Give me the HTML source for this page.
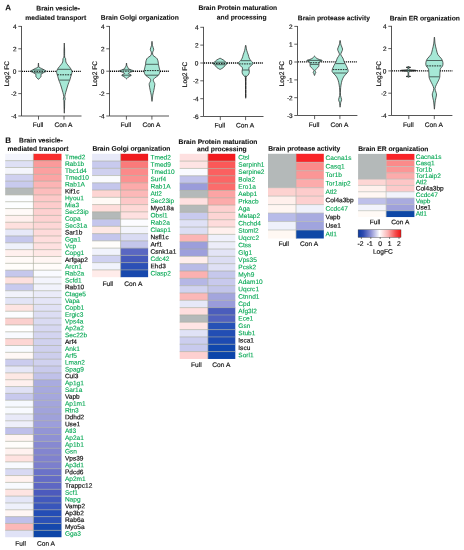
<!DOCTYPE html>
<html lang="en"><head><meta charset="utf-8"><title>Figure</title>
<style>
html,body{margin:0;padding:0;background:#fff;}
body{width:464px;height:550px;overflow:hidden;}
svg{display:block;font-family:"Liberation Sans",sans-serif;text-rendering:geometricPrecision;font-kerning:normal;}
</style></head><body>
<svg width="464" height="550" viewBox="0 0 464 550">
<rect width="464" height="550" fill="#fff"/>
<text x="5.20" y="10.20" font-size="8.00" text-anchor="start" font-weight="bold" fill="#111" stroke="#111" stroke-width="0.10" transform="rotate(0.03 5.20 10.20)">A</text>
<text x="5.20" y="143.00" font-size="8.00" text-anchor="start" font-weight="bold" fill="#111" stroke="#111" stroke-width="0.10" transform="rotate(0.03 5.20 143.00)">B</text>
<line x1="22.10" y1="71.35" x2="81.50" y2="71.35" stroke="#000" stroke-width="1.35" stroke-dasharray="1.05 0.87"/>
<path d="M38.45 63.00C38.58 63.00 38.62 65.97 38.80 66.80C38.98 67.63 38.97 67.31 39.45 67.60C39.93 67.89 40.62 68.00 41.45 68.40C42.28 68.80 43.17 69.30 44.05 69.80C44.93 70.30 46.39 70.71 46.35 71.20C46.31 71.69 44.68 72.05 43.85 72.50C43.02 72.95 42.25 73.34 41.75 73.70C41.25 74.06 41.19 73.94 41.05 74.50C40.91 75.06 41.18 76.17 40.95 76.80C40.72 77.43 40.20 77.55 39.75 78.00C39.30 78.45 38.92 79.30 38.45 79.30C37.98 79.30 37.60 78.45 37.15 78.00C36.70 77.55 36.18 77.43 35.95 76.80C35.72 76.17 35.99 75.06 35.85 74.50C35.71 73.94 35.65 74.06 35.15 73.70C34.65 73.34 33.88 72.95 33.05 72.50C32.22 72.05 30.59 71.69 30.55 71.20C30.51 70.71 31.97 70.30 32.85 69.80C33.73 69.30 34.62 68.80 35.45 68.40C36.28 68.00 36.97 67.89 37.45 67.60C37.93 67.31 37.92 67.63 38.10 66.80C38.28 65.97 38.32 63.00 38.45 63.00Z" fill="#a6e8d6" stroke="#1c1c1c" stroke-width="0.7" stroke-linejoin="round"/>
<line x1="33.25" y1="70.00" x2="43.65" y2="70.00" stroke="#1c1c1c" stroke-width="0.65"/>
<line x1="31.45" y1="71.40" x2="45.45" y2="71.40" stroke="#111" stroke-width="0.9" stroke-dasharray="1.6 0.9"/>
<line x1="33.85" y1="72.80" x2="43.05" y2="72.80" stroke="#1c1c1c" stroke-width="0.65"/>
<path d="M64.30 43.00C64.41 43.00 64.53 47.48 64.60 50.00C64.67 52.52 64.52 55.45 64.70 57.00C64.88 58.55 65.38 57.70 65.60 58.60C65.82 59.50 65.50 60.87 65.90 62.00C66.30 63.13 66.97 63.77 67.80 64.90C68.63 66.03 69.74 67.11 70.50 68.30C71.26 69.49 71.80 70.49 72.00 71.50C72.20 72.51 71.82 72.98 71.60 73.90C71.38 74.82 71.12 75.48 70.80 76.60C70.48 77.72 70.18 78.98 69.80 80.10C69.42 81.22 69.15 81.56 68.70 82.80C68.25 84.04 67.84 85.25 67.30 87.00C66.76 88.75 66.15 90.75 65.70 92.50C65.25 94.25 64.87 95.51 64.80 96.70C64.73 97.89 65.32 98.36 65.30 99.10C65.28 99.84 64.83 99.56 64.70 100.80C64.57 102.04 64.67 103.77 64.60 106.00C64.53 108.23 64.41 113.20 64.30 113.20C64.19 113.20 64.07 108.23 64.00 106.00C63.93 103.77 64.03 102.04 63.90 100.80C63.77 99.56 63.32 99.84 63.30 99.10C63.28 98.36 63.87 97.89 63.80 96.70C63.73 95.51 63.35 94.25 62.90 92.50C62.45 90.75 61.84 88.75 61.30 87.00C60.76 85.25 60.35 84.04 59.90 82.80C59.45 81.56 59.18 81.22 58.80 80.10C58.42 78.98 58.12 77.72 57.80 76.60C57.48 75.48 57.22 74.82 57.00 73.90C56.78 72.98 56.40 72.51 56.60 71.50C56.80 70.49 57.34 69.49 58.10 68.30C58.86 67.11 59.97 66.03 60.80 64.90C61.63 63.77 62.30 63.13 62.70 62.00C63.10 60.87 62.78 59.50 63.00 58.60C63.22 57.70 63.72 58.55 63.90 57.00C64.08 55.45 63.93 52.52 64.00 50.00C64.07 47.48 64.19 43.00 64.30 43.00Z" fill="#a6e8d6" stroke="#1c1c1c" stroke-width="0.7" stroke-linejoin="round"/>
<line x1="57.80" y1="69.30" x2="70.80" y2="69.30" stroke="#1c1c1c" stroke-width="0.65"/>
<line x1="57.40" y1="74.80" x2="71.20" y2="74.80" stroke="#111" stroke-width="0.9" stroke-dasharray="1.6 0.9"/>
<line x1="59.30" y1="80.10" x2="69.30" y2="80.10" stroke="#1c1c1c" stroke-width="0.65"/>
<path d="M21.50 26.00V116.00H81.50" fill="none" stroke="#383838" stroke-width="0.85"/>
<line x1="18.30" y1="26.40" x2="21.50" y2="26.40" stroke="#383838" stroke-width="0.8"/>
<text x="16.70" y="28.90" font-size="6.50" text-anchor="end" font-weight="normal" fill="#111" stroke="#111" stroke-width="0.16" transform="rotate(0.03 16.70 28.90)">4</text>
<line x1="18.30" y1="48.80" x2="21.50" y2="48.80" stroke="#383838" stroke-width="0.8"/>
<text x="16.70" y="51.30" font-size="6.50" text-anchor="end" font-weight="normal" fill="#111" stroke="#111" stroke-width="0.16" transform="rotate(0.03 16.70 51.30)">2</text>
<line x1="18.30" y1="71.20" x2="21.50" y2="71.20" stroke="#383838" stroke-width="0.8"/>
<text x="16.40" y="73.70" font-size="6.50" text-anchor="end" font-weight="normal" fill="#111" stroke="#111" stroke-width="0.16" transform="rotate(0.03 16.40 73.70)">0</text>
<line x1="18.30" y1="93.60" x2="21.50" y2="93.60" stroke="#383838" stroke-width="0.8"/>
<text x="16.70" y="96.10" font-size="6.50" text-anchor="end" font-weight="normal" fill="#111" stroke="#111" stroke-width="0.16" transform="rotate(0.03 16.70 96.10)">-2</text>
<line x1="18.30" y1="116.00" x2="21.50" y2="116.00" stroke="#383838" stroke-width="0.8"/>
<text x="16.70" y="118.50" font-size="6.50" text-anchor="end" font-weight="normal" fill="#111" stroke="#111" stroke-width="0.16" transform="rotate(0.03 16.70 118.50)">-4</text>
<line x1="38.50" y1="116.00" x2="38.50" y2="119.60" stroke="#383838" stroke-width="0.8"/>
<text x="38.00" y="127.10" font-size="6.60" text-anchor="middle" font-weight="normal" fill="#111" stroke="#111" stroke-width="0.16" transform="rotate(0.03 38.00 127.10)">Full</text>
<line x1="64.00" y1="116.00" x2="64.00" y2="119.60" stroke="#383838" stroke-width="0.8"/>
<text x="63.50" y="127.10" font-size="6.60" text-anchor="middle" font-weight="normal" fill="#111" stroke="#111" stroke-width="0.16" transform="rotate(0.03 63.50 127.10)">Con A</text>
<text x="58.20" y="10.60" font-size="6.72" text-anchor="middle" font-weight="bold" fill="#111" stroke="#111" stroke-width="0.10" transform="rotate(0.03 58.20 10.60)">Brain vesicle-</text>
<text x="55.80" y="20.10" font-size="6.72" text-anchor="middle" font-weight="bold" fill="#111" stroke="#111" stroke-width="0.10" transform="rotate(0.03 55.80 20.10)">mediated transport</text>
<text x="0.00" y="0.00" font-size="6.60" text-anchor="middle" font-weight="normal" fill="#111" stroke="#111" stroke-width="0.16" transform="translate(8.50 73.70) rotate(-90)">Log2 FC</text>
<line x1="110.10" y1="71.20" x2="169.00" y2="71.20" stroke="#000" stroke-width="1.35" stroke-dasharray="1.05 0.87"/>
<path d="M126.50 63.00C126.64 63.00 126.67 64.84 126.90 65.60C127.13 66.36 127.55 66.66 127.80 67.20C128.05 67.74 127.74 68.13 128.30 68.60C128.86 69.07 129.95 69.37 130.90 69.80C131.85 70.23 133.67 70.57 133.60 71.00C133.53 71.43 131.44 71.77 130.50 72.20C129.56 72.63 128.51 73.02 128.40 73.40C128.29 73.78 129.38 73.98 129.90 74.30C130.42 74.62 131.37 74.82 131.30 75.20C131.23 75.58 130.15 75.97 129.50 76.40C128.85 76.83 128.24 77.17 127.70 77.60C127.16 78.03 126.93 78.80 126.50 78.80C126.07 78.80 125.84 78.03 125.30 77.60C124.76 77.17 124.15 76.83 123.50 76.40C122.85 75.97 121.77 75.58 121.70 75.20C121.63 74.82 122.58 74.62 123.10 74.30C123.62 73.98 124.71 73.78 124.60 73.40C124.49 73.02 123.44 72.63 122.50 72.20C121.56 71.77 119.47 71.43 119.40 71.00C119.33 70.57 121.15 70.23 122.10 69.80C123.05 69.37 124.14 69.07 124.70 68.60C125.26 68.13 124.95 67.74 125.20 67.20C125.45 66.66 125.87 66.36 126.10 65.60C126.33 64.84 126.36 63.00 126.50 63.00Z" fill="#a6e8d6" stroke="#1c1c1c" stroke-width="0.7" stroke-linejoin="round"/>
<line x1="122.50" y1="69.90" x2="130.50" y2="69.90" stroke="#1c1c1c" stroke-width="0.65"/>
<line x1="120.10" y1="71.20" x2="132.90" y2="71.20" stroke="#111" stroke-width="0.9" stroke-dasharray="1.6 0.9"/>
<line x1="122.10" y1="75.20" x2="130.90" y2="75.20" stroke="#1c1c1c" stroke-width="0.65"/>
<path d="M152.00 41.30C152.18 41.30 152.19 44.06 152.50 45.50C152.81 46.94 153.61 48.24 153.70 49.30C153.79 50.36 153.20 50.75 153.00 51.40C152.80 52.05 152.60 52.20 152.60 52.90C152.60 53.60 152.53 54.56 153.00 55.30C153.47 56.04 154.44 56.37 155.20 57.00C155.96 57.63 156.66 57.90 157.20 58.80C157.74 59.70 157.97 60.96 158.20 62.00C158.43 63.04 158.27 63.32 158.50 64.60C158.73 65.88 159.25 67.82 159.50 69.10C159.75 70.38 160.08 70.60 159.90 71.70C159.72 72.80 159.45 74.05 158.50 75.20C157.55 76.35 155.54 77.18 154.60 78.10C153.66 79.02 153.37 79.53 153.30 80.30C153.23 81.07 153.93 81.63 154.20 82.40C154.47 83.17 154.87 83.16 154.80 84.60C154.73 86.04 154.16 88.53 153.80 90.40C153.44 92.27 153.12 93.02 152.80 95.00C152.48 96.98 152.29 101.40 152.00 101.40C151.71 101.40 151.52 96.98 151.20 95.00C150.88 93.02 150.56 92.27 150.20 90.40C149.84 88.53 149.27 86.04 149.20 84.60C149.13 83.16 149.53 83.17 149.80 82.40C150.07 81.63 150.77 81.07 150.70 80.30C150.63 79.53 150.34 79.02 149.40 78.10C148.46 77.18 146.45 76.35 145.50 75.20C144.55 74.05 144.28 72.80 144.10 71.70C143.92 70.60 144.25 70.38 144.50 69.10C144.75 67.82 145.27 65.88 145.50 64.60C145.73 63.32 145.57 63.04 145.80 62.00C146.03 60.96 146.26 59.70 146.80 58.80C147.34 57.90 148.04 57.63 148.80 57.00C149.56 56.37 150.53 56.04 151.00 55.30C151.47 54.56 151.40 53.60 151.40 52.90C151.40 52.20 151.20 52.05 151.00 51.40C150.80 50.75 150.21 50.36 150.30 49.30C150.39 48.24 151.19 46.94 151.50 45.50C151.81 44.06 151.82 41.30 152.00 41.30Z" fill="#a6e8d6" stroke="#1c1c1c" stroke-width="0.7" stroke-linejoin="round"/>
<line x1="145.80" y1="64.30" x2="158.20" y2="64.30" stroke="#1c1c1c" stroke-width="0.65"/>
<line x1="144.60" y1="70.60" x2="159.40" y2="70.60" stroke="#111" stroke-width="0.9" stroke-dasharray="1.6 0.9"/>
<line x1="145.80" y1="75.20" x2="158.20" y2="75.20" stroke="#1c1c1c" stroke-width="0.65"/>
<path d="M109.50 26.00V116.00H169.00" fill="none" stroke="#383838" stroke-width="0.85"/>
<line x1="106.30" y1="26.40" x2="109.50" y2="26.40" stroke="#383838" stroke-width="0.8"/>
<text x="104.70" y="28.90" font-size="6.50" text-anchor="end" font-weight="normal" fill="#111" stroke="#111" stroke-width="0.16" transform="rotate(0.03 104.70 28.90)">4</text>
<line x1="106.30" y1="48.80" x2="109.50" y2="48.80" stroke="#383838" stroke-width="0.8"/>
<text x="104.70" y="51.30" font-size="6.50" text-anchor="end" font-weight="normal" fill="#111" stroke="#111" stroke-width="0.16" transform="rotate(0.03 104.70 51.30)">2</text>
<line x1="106.30" y1="71.20" x2="109.50" y2="71.20" stroke="#383838" stroke-width="0.8"/>
<text x="104.40" y="73.70" font-size="6.50" text-anchor="end" font-weight="normal" fill="#111" stroke="#111" stroke-width="0.16" transform="rotate(0.03 104.40 73.70)">0</text>
<line x1="106.30" y1="93.60" x2="109.50" y2="93.60" stroke="#383838" stroke-width="0.8"/>
<text x="104.70" y="96.10" font-size="6.50" text-anchor="end" font-weight="normal" fill="#111" stroke="#111" stroke-width="0.16" transform="rotate(0.03 104.70 96.10)">-2</text>
<line x1="106.30" y1="116.00" x2="109.50" y2="116.00" stroke="#383838" stroke-width="0.8"/>
<text x="104.70" y="118.50" font-size="6.50" text-anchor="end" font-weight="normal" fill="#111" stroke="#111" stroke-width="0.16" transform="rotate(0.03 104.70 118.50)">-4</text>
<line x1="126.40" y1="116.00" x2="126.40" y2="119.60" stroke="#383838" stroke-width="0.8"/>
<text x="125.90" y="127.10" font-size="6.60" text-anchor="middle" font-weight="normal" fill="#111" stroke="#111" stroke-width="0.16" transform="rotate(0.03 125.90 127.10)">Full</text>
<line x1="151.90" y1="116.00" x2="151.90" y2="119.60" stroke="#383838" stroke-width="0.8"/>
<text x="151.40" y="127.10" font-size="6.60" text-anchor="middle" font-weight="normal" fill="#111" stroke="#111" stroke-width="0.16" transform="rotate(0.03 151.40 127.10)">Con A</text>
<text x="139.80" y="19.70" font-size="6.72" text-anchor="middle" font-weight="bold" fill="#111" stroke="#111" stroke-width="0.10" transform="rotate(0.03 139.80 19.70)">Brain Golgi organization</text>
<text x="0.00" y="0.00" font-size="6.60" text-anchor="middle" font-weight="normal" fill="#111" stroke="#111" stroke-width="0.16" transform="translate(97.20 73.70) rotate(-90)">Log2 FC</text>
<line x1="204.10" y1="63.00" x2="263.50" y2="63.00" stroke="#000" stroke-width="1.35" stroke-dasharray="1.05 0.87"/>
<path d="M220.10 58.30C220.68 58.30 221.02 58.64 221.70 59.00C222.38 59.36 223.25 59.83 223.90 60.30C224.55 60.77 224.89 61.19 225.30 61.60C225.71 62.01 225.82 62.26 226.20 62.60C226.58 62.94 227.42 63.18 227.40 63.50C227.38 63.82 226.51 64.04 226.10 64.40C225.69 64.76 225.57 64.96 225.10 65.50C224.63 66.04 224.11 66.84 223.50 67.40C222.89 67.96 222.31 68.24 221.70 68.60C221.09 68.96 220.68 69.40 220.10 69.40C219.52 69.40 219.11 68.96 218.50 68.60C217.89 68.24 217.31 67.96 216.70 67.40C216.09 66.84 215.57 66.04 215.10 65.50C214.63 64.96 214.51 64.76 214.10 64.40C213.69 64.04 212.82 63.82 212.80 63.50C212.78 63.18 213.62 62.94 214.00 62.60C214.38 62.26 214.49 62.01 214.90 61.60C215.31 61.19 215.65 60.77 216.30 60.30C216.95 59.83 217.82 59.36 218.50 59.00C219.18 58.64 219.52 58.30 220.10 58.30Z" fill="#a6e8d6" stroke="#1c1c1c" stroke-width="0.7" stroke-linejoin="round"/>
<line x1="214.70" y1="62.20" x2="225.50" y2="62.20" stroke="#1c1c1c" stroke-width="0.65"/>
<line x1="213.50" y1="63.50" x2="226.70" y2="63.50" stroke="#111" stroke-width="0.9" stroke-dasharray="1.6 0.9"/>
<line x1="214.70" y1="64.70" x2="225.50" y2="64.70" stroke="#1c1c1c" stroke-width="0.65"/>
<path d="M245.70 45.20C246.06 45.20 246.23 48.55 246.70 50.30C247.17 52.05 247.85 53.50 248.30 54.90C248.75 56.30 248.73 57.06 249.20 58.10C249.67 59.14 250.20 59.76 250.90 60.70C251.60 61.64 253.10 62.36 253.10 63.30C253.10 64.24 251.66 65.09 250.90 65.90C250.14 66.71 249.19 66.88 248.90 67.80C248.61 68.72 249.30 69.90 249.30 71.00C249.30 72.10 249.37 72.91 248.90 73.90C248.43 74.89 247.22 75.80 246.70 76.50C246.18 77.20 246.18 73.89 246.00 77.80C245.82 81.71 245.81 98.20 245.70 98.20C245.59 98.20 245.58 81.71 245.40 77.80C245.22 73.89 245.22 77.20 244.70 76.50C244.18 75.80 242.97 74.89 242.50 73.90C242.03 72.91 242.10 72.10 242.10 71.00C242.10 69.90 242.79 68.72 242.50 67.80C242.21 66.88 241.26 66.71 240.50 65.90C239.74 65.09 238.30 64.24 238.30 63.30C238.30 62.36 239.80 61.64 240.50 60.70C241.20 59.76 241.73 59.14 242.20 58.10C242.67 57.06 242.65 56.30 243.10 54.90C243.55 53.50 244.23 52.05 244.70 50.30C245.17 48.55 245.34 45.20 245.70 45.20Z" fill="#a6e8d6" stroke="#1c1c1c" stroke-width="0.7" stroke-linejoin="round"/>
<line x1="240.90" y1="60.70" x2="250.50" y2="60.70" stroke="#1c1c1c" stroke-width="0.65"/>
<line x1="239.10" y1="63.90" x2="252.30" y2="63.90" stroke="#111" stroke-width="0.9" stroke-dasharray="1.6 0.9"/>
<line x1="242.40" y1="70.00" x2="249.00" y2="70.00" stroke="#1c1c1c" stroke-width="0.65"/>
<path d="M203.50 26.90V116.50H263.50" fill="none" stroke="#383838" stroke-width="0.85"/>
<line x1="200.30" y1="27.30" x2="203.50" y2="27.30" stroke="#383838" stroke-width="0.8"/>
<text x="198.70" y="29.80" font-size="6.50" text-anchor="end" font-weight="normal" fill="#111" stroke="#111" stroke-width="0.16" transform="rotate(0.03 198.70 29.80)">4</text>
<line x1="200.30" y1="45.10" x2="203.50" y2="45.10" stroke="#383838" stroke-width="0.8"/>
<text x="198.70" y="47.60" font-size="6.50" text-anchor="end" font-weight="normal" fill="#111" stroke="#111" stroke-width="0.16" transform="rotate(0.03 198.70 47.60)">2</text>
<line x1="200.30" y1="63.00" x2="203.50" y2="63.00" stroke="#383838" stroke-width="0.8"/>
<text x="198.40" y="65.50" font-size="6.50" text-anchor="end" font-weight="normal" fill="#111" stroke="#111" stroke-width="0.16" transform="rotate(0.03 198.40 65.50)">0</text>
<line x1="200.30" y1="80.80" x2="203.50" y2="80.80" stroke="#383838" stroke-width="0.8"/>
<text x="198.70" y="83.30" font-size="6.50" text-anchor="end" font-weight="normal" fill="#111" stroke="#111" stroke-width="0.16" transform="rotate(0.03 198.70 83.30)">-2</text>
<line x1="200.30" y1="98.70" x2="203.50" y2="98.70" stroke="#383838" stroke-width="0.8"/>
<text x="198.70" y="101.20" font-size="6.50" text-anchor="end" font-weight="normal" fill="#111" stroke="#111" stroke-width="0.16" transform="rotate(0.03 198.70 101.20)">-4</text>
<line x1="200.30" y1="116.50" x2="203.50" y2="116.50" stroke="#383838" stroke-width="0.8"/>
<text x="198.70" y="119.00" font-size="6.50" text-anchor="end" font-weight="normal" fill="#111" stroke="#111" stroke-width="0.16" transform="rotate(0.03 198.70 119.00)">-6</text>
<line x1="220.30" y1="116.50" x2="220.30" y2="120.10" stroke="#383838" stroke-width="0.8"/>
<text x="219.80" y="127.40" font-size="6.60" text-anchor="middle" font-weight="normal" fill="#111" stroke="#111" stroke-width="0.16" transform="rotate(0.03 219.80 127.40)">Full</text>
<line x1="245.60" y1="116.50" x2="245.60" y2="120.10" stroke="#383838" stroke-width="0.8"/>
<text x="245.10" y="127.40" font-size="6.60" text-anchor="middle" font-weight="normal" fill="#111" stroke="#111" stroke-width="0.16" transform="rotate(0.03 245.10 127.40)">Con A</text>
<text x="237.80" y="10.00" font-size="6.72" text-anchor="middle" font-weight="bold" fill="#111" stroke="#111" stroke-width="0.10" transform="rotate(0.03 237.80 10.00)">Brain Protein maturation</text>
<text x="241.70" y="19.60" font-size="6.72" text-anchor="middle" font-weight="bold" fill="#111" stroke="#111" stroke-width="0.10" transform="rotate(0.03 241.70 19.60)">and processing</text>
<text x="0.00" y="0.00" font-size="6.60" text-anchor="middle" font-weight="normal" fill="#111" stroke="#111" stroke-width="0.16" transform="translate(187.00 74.50) rotate(-90)">Log2 FC</text>
<line x1="245.7" y1="77.5" x2="245.7" y2="98.2" stroke="#222" stroke-width="0.9" stroke-dasharray="3.4 0.7"/>
<line x1="298.10" y1="61.90" x2="357.40" y2="61.90" stroke="#000" stroke-width="1.35" stroke-dasharray="1.05 0.87"/>
<path d="M314.50 56.10C314.93 56.10 315.23 57.05 315.70 57.50C316.17 57.95 316.42 58.22 317.10 58.60C317.78 58.98 318.58 59.28 319.50 59.60C320.42 59.92 321.91 60.11 322.20 60.40C322.49 60.69 321.62 60.91 321.10 61.20C320.58 61.49 319.68 61.50 319.30 62.00C318.92 62.50 319.09 63.24 319.00 64.00C318.91 64.76 319.03 65.55 318.80 66.20C318.57 66.85 318.11 67.15 317.70 67.60C317.29 68.05 316.90 68.30 316.50 68.70C316.10 69.10 315.77 69.44 315.50 69.80C315.23 70.16 314.95 70.25 315.00 70.70C315.05 71.15 315.76 71.78 315.80 72.30C315.84 72.82 315.43 73.02 315.20 73.60C314.97 74.18 314.75 75.50 314.50 75.50C314.25 75.50 314.03 74.18 313.80 73.60C313.57 73.02 313.16 72.82 313.20 72.30C313.24 71.78 313.95 71.15 314.00 70.70C314.05 70.25 313.77 70.16 313.50 69.80C313.23 69.44 312.90 69.10 312.50 68.70C312.10 68.30 311.71 68.05 311.30 67.60C310.89 67.15 310.43 66.85 310.20 66.20C309.97 65.55 310.09 64.76 310.00 64.00C309.91 63.24 310.08 62.50 309.70 62.00C309.32 61.50 308.42 61.49 307.90 61.20C307.38 60.91 306.51 60.69 306.80 60.40C307.09 60.11 308.58 59.92 309.50 59.60C310.42 59.28 311.22 58.98 311.90 58.60C312.58 58.22 312.83 57.95 313.30 57.50C313.77 57.05 314.07 56.10 314.50 56.10Z" fill="#a6e8d6" stroke="#1c1c1c" stroke-width="0.7" stroke-linejoin="round"/>
<line x1="307.90" y1="60.40" x2="321.10" y2="60.40" stroke="#1c1c1c" stroke-width="0.65"/>
<line x1="310.30" y1="62.70" x2="318.70" y2="62.70" stroke="#111" stroke-width="0.9" stroke-dasharray="1.6 0.9"/>
<line x1="310.30" y1="64.40" x2="318.70" y2="64.40" stroke="#1c1c1c" stroke-width="0.65"/>
<path d="M340.10 40.40C340.42 40.40 340.55 43.43 341.00 45.00C341.45 46.57 342.49 47.84 342.60 49.10C342.71 50.36 341.92 50.99 341.60 52.00C341.28 53.01 340.57 53.60 340.80 54.70C341.03 55.80 342.29 56.82 342.90 58.10C343.51 59.38 343.59 60.43 344.20 61.80C344.81 63.17 345.62 64.24 346.30 65.70C346.98 67.16 347.75 68.73 348.00 69.90C348.25 71.07 348.38 71.08 347.70 72.20C347.02 73.32 345.21 74.66 344.20 76.10C343.19 77.54 342.68 78.58 342.10 80.20C341.52 81.82 341.29 83.34 341.00 85.10C340.71 86.86 340.59 88.15 340.50 90.00C340.41 91.85 340.30 93.67 340.50 95.40C340.70 97.13 341.56 98.32 341.60 99.60C341.64 100.88 340.97 101.13 340.70 102.50C340.43 103.87 340.32 107.20 340.10 107.20C339.88 107.20 339.77 103.87 339.50 102.50C339.23 101.13 338.56 100.88 338.60 99.60C338.64 98.32 339.50 97.13 339.70 95.40C339.90 93.67 339.79 91.85 339.70 90.00C339.61 88.15 339.49 86.86 339.20 85.10C338.91 83.34 338.68 81.82 338.10 80.20C337.52 78.58 337.01 77.54 336.00 76.10C334.99 74.66 333.18 73.32 332.50 72.20C331.82 71.08 331.95 71.07 332.20 69.90C332.45 68.73 333.22 67.16 333.90 65.70C334.58 64.24 335.39 63.17 336.00 61.80C336.61 60.43 336.69 59.38 337.30 58.10C337.91 56.82 339.17 55.80 339.40 54.70C339.63 53.60 338.92 53.01 338.60 52.00C338.28 50.99 337.49 50.36 337.60 49.10C337.71 47.84 338.75 46.57 339.20 45.00C339.65 43.43 339.78 40.40 340.10 40.40Z" fill="#a6e8d6" stroke="#1c1c1c" stroke-width="0.7" stroke-linejoin="round"/>
<line x1="335.50" y1="63.60" x2="344.70" y2="63.60" stroke="#1c1c1c" stroke-width="0.65"/>
<line x1="332.80" y1="69.60" x2="347.40" y2="69.60" stroke="#111" stroke-width="0.9" stroke-dasharray="1.6 0.9"/>
<line x1="333.50" y1="73.00" x2="346.70" y2="73.00" stroke="#1c1c1c" stroke-width="0.65"/>
<path d="M297.50 26.00V115.50H357.40" fill="none" stroke="#383838" stroke-width="0.85"/>
<line x1="294.30" y1="26.40" x2="297.50" y2="26.40" stroke="#383838" stroke-width="0.8"/>
<text x="292.70" y="28.90" font-size="6.50" text-anchor="end" font-weight="normal" fill="#111" stroke="#111" stroke-width="0.16" transform="rotate(0.03 292.70 28.90)">2</text>
<line x1="294.30" y1="44.20" x2="297.50" y2="44.20" stroke="#383838" stroke-width="0.8"/>
<text x="292.70" y="46.70" font-size="6.50" text-anchor="end" font-weight="normal" fill="#111" stroke="#111" stroke-width="0.16" transform="rotate(0.03 292.70 46.70)">1</text>
<line x1="294.30" y1="62.00" x2="297.50" y2="62.00" stroke="#383838" stroke-width="0.8"/>
<text x="292.40" y="64.50" font-size="6.50" text-anchor="end" font-weight="normal" fill="#111" stroke="#111" stroke-width="0.16" transform="rotate(0.03 292.40 64.50)">0</text>
<line x1="294.30" y1="79.90" x2="297.50" y2="79.90" stroke="#383838" stroke-width="0.8"/>
<text x="292.70" y="82.40" font-size="6.50" text-anchor="end" font-weight="normal" fill="#111" stroke="#111" stroke-width="0.16" transform="rotate(0.03 292.70 82.40)">-1</text>
<line x1="294.30" y1="97.70" x2="297.50" y2="97.70" stroke="#383838" stroke-width="0.8"/>
<text x="292.70" y="100.20" font-size="6.50" text-anchor="end" font-weight="normal" fill="#111" stroke="#111" stroke-width="0.16" transform="rotate(0.03 292.70 100.20)">-2</text>
<line x1="294.30" y1="115.50" x2="297.50" y2="115.50" stroke="#383838" stroke-width="0.8"/>
<text x="292.70" y="118.00" font-size="6.50" text-anchor="end" font-weight="normal" fill="#111" stroke="#111" stroke-width="0.16" transform="rotate(0.03 292.70 118.00)">-3</text>
<line x1="314.60" y1="115.50" x2="314.60" y2="119.10" stroke="#383838" stroke-width="0.8"/>
<text x="314.10" y="127.00" font-size="6.60" text-anchor="middle" font-weight="normal" fill="#111" stroke="#111" stroke-width="0.16" transform="rotate(0.03 314.10 127.00)">Full</text>
<line x1="339.90" y1="115.50" x2="339.90" y2="119.10" stroke="#383838" stroke-width="0.8"/>
<text x="339.40" y="127.00" font-size="6.60" text-anchor="middle" font-weight="normal" fill="#111" stroke="#111" stroke-width="0.16" transform="rotate(0.03 339.40 127.00)">Con A</text>
<text x="333.90" y="20.20" font-size="6.72" text-anchor="middle" font-weight="bold" fill="#111" stroke="#111" stroke-width="0.10" transform="rotate(0.03 333.90 20.20)">Brain protease activity</text>
<text x="0.00" y="0.00" font-size="6.60" text-anchor="middle" font-weight="normal" fill="#111" stroke="#111" stroke-width="0.16" transform="translate(283.70 73.70) rotate(-90)">Log2 FC</text>
<line x1="392.10" y1="70.90" x2="452.40" y2="70.90" stroke="#000" stroke-width="1.35" stroke-dasharray="1.05 0.87"/>
<path d="M408.40 66.10C408.58 66.10 408.49 66.67 408.90 66.90C409.31 67.13 410.68 67.22 410.70 67.40C410.72 67.58 409.29 67.54 409.00 67.90C408.71 68.26 408.63 69.02 409.10 69.40C409.57 69.78 410.25 69.80 411.60 70.00C412.95 70.20 416.60 70.30 416.60 70.50C416.60 70.70 412.95 70.88 411.60 71.10C410.25 71.32 409.59 70.85 409.10 71.70C408.61 72.55 408.61 74.95 408.90 75.80C409.19 76.65 410.70 76.20 410.70 76.40C410.70 76.60 409.31 76.72 408.90 76.90C408.49 77.08 408.58 77.40 408.40 77.40C408.22 77.40 408.31 77.08 407.90 76.90C407.49 76.72 406.10 76.60 406.10 76.40C406.10 76.20 407.61 76.65 407.90 75.80C408.19 74.95 408.19 72.55 407.70 71.70C407.21 70.85 406.55 71.32 405.20 71.10C403.85 70.88 400.20 70.70 400.20 70.50C400.20 70.30 403.85 70.20 405.20 70.00C406.55 69.80 407.23 69.78 407.70 69.40C408.17 69.02 408.09 68.26 407.80 67.90C407.51 67.54 406.08 67.58 406.10 67.40C406.12 67.22 407.49 67.13 407.90 66.90C408.31 66.67 408.22 66.10 408.40 66.10Z" fill="#a6e8d6" stroke="#1c1c1c" stroke-width="0.7" stroke-linejoin="round"/>
<line x1="401.40" y1="70.30" x2="415.40" y2="70.30" stroke="#1c1c1c" stroke-width="0.65"/>
<line x1="401.40" y1="70.80" x2="415.40" y2="70.80" stroke="#1c1c1c" stroke-width="0.65"/>
<line x1="406.40" y1="67.40" x2="410.40" y2="67.40" stroke="#1c1c1c" stroke-width="0.65"/>
<line x1="406.40" y1="76.40" x2="410.40" y2="76.40" stroke="#1c1c1c" stroke-width="0.65"/>
<path d="M434.40 37.10C434.65 37.10 434.74 41.65 435.10 43.90C435.46 46.15 435.90 47.67 436.40 49.60C436.90 51.53 436.98 52.94 437.90 54.60C438.82 56.26 440.60 57.40 441.50 58.80C442.40 60.20 442.70 61.12 442.90 62.40C443.10 63.68 443.09 64.62 442.60 65.90C442.11 67.18 440.70 67.57 440.20 69.50C439.70 71.43 440.07 74.69 439.80 76.60C439.53 78.51 439.29 78.70 438.70 80.10C438.11 81.50 437.17 82.87 436.50 84.40C435.83 85.93 435.11 87.23 435.00 88.60C434.89 89.97 435.63 90.85 435.90 92.00C436.17 93.15 436.61 93.43 436.50 95.00C436.39 96.57 435.61 98.90 435.30 100.70C434.99 102.50 434.96 103.47 434.80 105.00C434.64 106.53 434.54 109.20 434.40 109.20C434.26 109.20 434.16 106.53 434.00 105.00C433.84 103.47 433.81 102.50 433.50 100.70C433.19 98.90 432.41 96.57 432.30 95.00C432.19 93.43 432.63 93.15 432.90 92.00C433.17 90.85 433.91 89.97 433.80 88.60C433.69 87.23 432.97 85.93 432.30 84.40C431.63 82.87 430.69 81.50 430.10 80.10C429.51 78.70 429.27 78.51 429.00 76.60C428.73 74.69 429.10 71.43 428.60 69.50C428.10 67.57 426.69 67.18 426.20 65.90C425.71 64.62 425.70 63.68 425.90 62.40C426.10 61.12 426.40 60.20 427.30 58.80C428.20 57.40 429.98 56.26 430.90 54.60C431.82 52.94 431.90 51.53 432.40 49.60C432.90 47.67 433.34 46.15 433.70 43.90C434.06 41.65 434.15 37.10 434.40 37.10Z" fill="#a6e8d6" stroke="#1c1c1c" stroke-width="0.7" stroke-linejoin="round"/>
<line x1="426.80" y1="60.50" x2="442.00" y2="60.50" stroke="#1c1c1c" stroke-width="0.65"/>
<line x1="426.80" y1="65.90" x2="442.00" y2="65.90" stroke="#111" stroke-width="0.9" stroke-dasharray="1.6 0.9"/>
<line x1="429.40" y1="76.80" x2="439.40" y2="76.80" stroke="#1c1c1c" stroke-width="0.65"/>
<path d="M391.50 25.90V115.50H452.40" fill="none" stroke="#383838" stroke-width="0.85"/>
<line x1="388.30" y1="26.30" x2="391.50" y2="26.30" stroke="#383838" stroke-width="0.8"/>
<text x="386.70" y="28.80" font-size="6.50" text-anchor="end" font-weight="normal" fill="#111" stroke="#111" stroke-width="0.16" transform="rotate(0.03 386.70 28.80)">4</text>
<line x1="388.30" y1="48.60" x2="391.50" y2="48.60" stroke="#383838" stroke-width="0.8"/>
<text x="386.70" y="51.10" font-size="6.50" text-anchor="end" font-weight="normal" fill="#111" stroke="#111" stroke-width="0.16" transform="rotate(0.03 386.70 51.10)">2</text>
<line x1="388.30" y1="70.90" x2="391.50" y2="70.90" stroke="#383838" stroke-width="0.8"/>
<text x="386.40" y="73.40" font-size="6.50" text-anchor="end" font-weight="normal" fill="#111" stroke="#111" stroke-width="0.16" transform="rotate(0.03 386.40 73.40)">0</text>
<line x1="388.30" y1="93.20" x2="391.50" y2="93.20" stroke="#383838" stroke-width="0.8"/>
<text x="386.70" y="95.70" font-size="6.50" text-anchor="end" font-weight="normal" fill="#111" stroke="#111" stroke-width="0.16" transform="rotate(0.03 386.70 95.70)">-2</text>
<line x1="388.30" y1="115.50" x2="391.50" y2="115.50" stroke="#383838" stroke-width="0.8"/>
<text x="386.70" y="118.00" font-size="6.50" text-anchor="end" font-weight="normal" fill="#111" stroke="#111" stroke-width="0.16" transform="rotate(0.03 386.70 118.00)">-4</text>
<line x1="408.80" y1="115.50" x2="408.80" y2="119.10" stroke="#383838" stroke-width="0.8"/>
<text x="408.30" y="127.00" font-size="6.60" text-anchor="middle" font-weight="normal" fill="#111" stroke="#111" stroke-width="0.16" transform="rotate(0.03 408.30 127.00)">Full</text>
<line x1="434.30" y1="115.50" x2="434.30" y2="119.10" stroke="#383838" stroke-width="0.8"/>
<text x="433.80" y="127.00" font-size="6.60" text-anchor="middle" font-weight="normal" fill="#111" stroke="#111" stroke-width="0.16" transform="rotate(0.03 433.80 127.00)">Con A</text>
<text x="424.80" y="20.60" font-size="6.72" text-anchor="middle" font-weight="bold" fill="#111" stroke="#111" stroke-width="0.10" transform="rotate(0.03 424.80 20.60)">Brain ER organization</text>
<text x="0.00" y="0.00" font-size="6.60" text-anchor="middle" font-weight="normal" fill="#111" stroke="#111" stroke-width="0.16" transform="translate(380.60 73.70) rotate(-90)">Log2 FC</text>
<rect x="5.20" y="153.80" width="28.20" height="6.90" fill="#f3f4fc"/>
<rect x="33.40" y="153.80" width="28.10" height="6.90" fill="#f82c2c"/>
<text x="64.90" y="159.22" font-size="6.55" text-anchor="start" font-weight="normal" fill="#00a651" stroke="#00a651" stroke-width="0.10" transform="rotate(0.03 64.90 159.22)">Tmed2</text>
<rect x="5.20" y="160.65" width="28.20" height="6.90" fill="#dee0f5"/>
<rect x="33.40" y="160.65" width="28.10" height="6.90" fill="#fa9a9a"/>
<text x="64.90" y="166.07" font-size="6.55" text-anchor="start" font-weight="normal" fill="#00a651" stroke="#00a651" stroke-width="0.10" transform="rotate(0.03 64.90 166.07)">Rab1b</text>
<rect x="5.20" y="167.49" width="28.20" height="6.90" fill="#f4f5fc"/>
<rect x="33.40" y="167.49" width="28.10" height="6.90" fill="#fba0a0"/>
<text x="64.90" y="172.92" font-size="6.55" text-anchor="start" font-weight="normal" fill="#00a651" stroke="#00a651" stroke-width="0.10" transform="rotate(0.03 64.90 172.92)">Tbc1d4</text>
<rect x="5.20" y="174.34" width="28.20" height="6.90" fill="#cfd0ef"/>
<rect x="33.40" y="174.34" width="28.10" height="6.90" fill="#fba4a4"/>
<text x="64.90" y="179.76" font-size="6.55" text-anchor="start" font-weight="normal" fill="#00a651" stroke="#00a651" stroke-width="0.10" transform="rotate(0.03 64.90 179.76)">Tmed10</text>
<rect x="5.20" y="181.18" width="28.20" height="6.90" fill="#c8caee"/>
<rect x="33.40" y="181.18" width="28.10" height="6.90" fill="#fcb4b4"/>
<text x="64.90" y="186.61" font-size="6.55" text-anchor="start" font-weight="normal" fill="#00a651" stroke="#00a651" stroke-width="0.10" transform="rotate(0.03 64.90 186.61)">Rab1A</text>
<rect x="5.20" y="188.03" width="28.20" height="6.90" fill="#b4b9b9"/>
<rect x="33.40" y="188.03" width="28.10" height="6.90" fill="#fcbcbc"/>
<text x="64.90" y="193.45" font-size="6.55" text-anchor="start" font-weight="normal" fill="#111" stroke="#111" stroke-width="0.18" transform="rotate(0.03 64.90 193.45)">Kif1c</text>
<rect x="5.20" y="194.88" width="28.20" height="6.90" fill="#fcfdff"/>
<rect x="33.40" y="194.88" width="28.10" height="6.90" fill="#fdc8c8"/>
<text x="64.90" y="200.30" font-size="6.55" text-anchor="start" font-weight="normal" fill="#00a651" stroke="#00a651" stroke-width="0.10" transform="rotate(0.03 64.90 200.30)">Hyou1</text>
<rect x="5.20" y="201.72" width="28.20" height="6.90" fill="#fdfeff"/>
<rect x="33.40" y="201.72" width="28.10" height="6.90" fill="#fdcccc"/>
<text x="64.90" y="207.15" font-size="6.55" text-anchor="start" font-weight="normal" fill="#00a651" stroke="#00a651" stroke-width="0.10" transform="rotate(0.03 64.90 207.15)">Mia3</text>
<rect x="5.20" y="208.57" width="28.20" height="6.90" fill="#fffaf8"/>
<rect x="33.40" y="208.57" width="28.10" height="6.90" fill="#fdd0d0"/>
<text x="64.90" y="213.99" font-size="6.55" text-anchor="start" font-weight="normal" fill="#00a651" stroke="#00a651" stroke-width="0.10" transform="rotate(0.03 64.90 213.99)">Sec23ip</text>
<rect x="5.20" y="215.41" width="28.20" height="6.90" fill="#fff0ee"/>
<rect x="33.40" y="215.41" width="28.10" height="6.90" fill="#fdd2d2"/>
<text x="64.90" y="220.84" font-size="6.55" text-anchor="start" font-weight="normal" fill="#00a651" stroke="#00a651" stroke-width="0.10" transform="rotate(0.03 64.90 220.84)">Copa</text>
<rect x="5.20" y="222.26" width="28.20" height="6.90" fill="#fee0de"/>
<rect x="33.40" y="222.26" width="28.10" height="6.90" fill="#fdd6d6"/>
<text x="64.90" y="227.68" font-size="6.55" text-anchor="start" font-weight="normal" fill="#00a651" stroke="#00a651" stroke-width="0.10" transform="rotate(0.03 64.90 227.68)">Sec31a</text>
<rect x="5.20" y="229.11" width="28.20" height="6.90" fill="#e6e8f8"/>
<rect x="33.40" y="229.11" width="28.10" height="6.90" fill="#fedada"/>
<text x="64.90" y="234.53" font-size="6.55" text-anchor="start" font-weight="normal" fill="#111" stroke="#111" stroke-width="0.18" transform="rotate(0.03 64.90 234.53)">Sar1b</text>
<rect x="5.20" y="235.95" width="28.20" height="6.90" fill="#c5c7ec"/>
<rect x="33.40" y="235.95" width="28.10" height="6.90" fill="#fedddd"/>
<text x="64.90" y="241.38" font-size="6.55" text-anchor="start" font-weight="normal" fill="#00a651" stroke="#00a651" stroke-width="0.10" transform="rotate(0.03 64.90 241.38)">Gga1</text>
<rect x="5.20" y="242.80" width="28.20" height="6.90" fill="#eff1fb"/>
<rect x="33.40" y="242.80" width="28.10" height="6.90" fill="#fee0e0"/>
<text x="64.90" y="248.22" font-size="6.55" text-anchor="start" font-weight="normal" fill="#00a651" stroke="#00a651" stroke-width="0.10" transform="rotate(0.03 64.90 248.22)">Vcp</text>
<rect x="5.20" y="249.64" width="28.20" height="6.90" fill="#fff0ee"/>
<rect x="33.40" y="249.64" width="28.10" height="6.90" fill="#ffe8e6"/>
<text x="64.90" y="255.07" font-size="6.55" text-anchor="start" font-weight="normal" fill="#00a651" stroke="#00a651" stroke-width="0.10" transform="rotate(0.03 64.90 255.07)">Copg1</text>
<rect x="5.20" y="256.49" width="28.20" height="6.90" fill="#fffaf8"/>
<rect x="33.40" y="256.49" width="28.10" height="6.90" fill="#fff6f4"/>
<text x="64.90" y="261.91" font-size="6.55" text-anchor="start" font-weight="normal" fill="#111" stroke="#111" stroke-width="0.18" transform="rotate(0.03 64.90 261.91)">Arfgap2</text>
<rect x="5.20" y="263.34" width="28.20" height="6.90" fill="#fffdfb"/>
<rect x="33.40" y="263.34" width="28.10" height="6.90" fill="#fffcfa"/>
<text x="64.90" y="268.76" font-size="6.55" text-anchor="start" font-weight="normal" fill="#00a651" stroke="#00a651" stroke-width="0.10" transform="rotate(0.03 64.90 268.76)">Arcn1</text>
<rect x="5.20" y="270.18" width="28.20" height="6.90" fill="#c5c7ec"/>
<rect x="33.40" y="270.18" width="28.10" height="6.90" fill="#f9faff"/>
<text x="64.90" y="275.61" font-size="6.55" text-anchor="start" font-weight="normal" fill="#00a651" stroke="#00a651" stroke-width="0.10" transform="rotate(0.03 64.90 275.61)">Rab2a</text>
<rect x="5.20" y="277.03" width="28.20" height="6.90" fill="#fde0de"/>
<rect x="33.40" y="277.03" width="28.10" height="6.90" fill="#f3f4fc"/>
<text x="64.90" y="282.45" font-size="6.55" text-anchor="start" font-weight="normal" fill="#00a651" stroke="#00a651" stroke-width="0.10" transform="rotate(0.03 64.90 282.45)">Scfd1</text>
<rect x="5.20" y="283.87" width="28.20" height="6.90" fill="#c8caee"/>
<rect x="33.40" y="283.87" width="28.10" height="6.90" fill="#f1f2fb"/>
<text x="64.90" y="289.30" font-size="6.55" text-anchor="start" font-weight="normal" fill="#111" stroke="#111" stroke-width="0.18" transform="rotate(0.03 64.90 289.30)">Rab10</text>
<rect x="5.20" y="290.72" width="28.20" height="6.90" fill="#f1f2fb"/>
<rect x="33.40" y="290.72" width="28.10" height="6.90" fill="#eaebf9"/>
<text x="64.90" y="296.14" font-size="6.55" text-anchor="start" font-weight="normal" fill="#00a651" stroke="#00a651" stroke-width="0.10" transform="rotate(0.03 64.90 296.14)">Ctage5</text>
<rect x="5.20" y="297.57" width="28.20" height="6.90" fill="#e2e4f6"/>
<rect x="33.40" y="297.57" width="28.10" height="6.90" fill="#e4e5f7"/>
<text x="64.90" y="302.99" font-size="6.55" text-anchor="start" font-weight="normal" fill="#00a651" stroke="#00a651" stroke-width="0.10" transform="rotate(0.03 64.90 302.99)">Vapa</text>
<rect x="5.20" y="304.41" width="28.20" height="6.90" fill="#fde4e2"/>
<rect x="33.40" y="304.41" width="28.10" height="6.90" fill="#e0e1f5"/>
<text x="64.90" y="309.84" font-size="6.55" text-anchor="start" font-weight="normal" fill="#00a651" stroke="#00a651" stroke-width="0.10" transform="rotate(0.03 64.90 309.84)">Copb1</text>
<rect x="5.20" y="311.26" width="28.20" height="6.90" fill="#fcfdff"/>
<rect x="33.40" y="311.26" width="28.10" height="6.90" fill="#dcddf3"/>
<text x="64.90" y="316.68" font-size="6.55" text-anchor="start" font-weight="normal" fill="#00a651" stroke="#00a651" stroke-width="0.10" transform="rotate(0.03 64.90 316.68)">Ergic3</text>
<rect x="5.20" y="318.10" width="28.20" height="6.90" fill="#fbd0ce"/>
<rect x="33.40" y="318.10" width="28.10" height="6.90" fill="#d9daf2"/>
<text x="64.90" y="323.53" font-size="6.55" text-anchor="start" font-weight="normal" fill="#00a651" stroke="#00a651" stroke-width="0.10" transform="rotate(0.03 64.90 323.53)">Vps4a</text>
<rect x="5.20" y="324.95" width="28.20" height="6.90" fill="#ffffff"/>
<rect x="33.40" y="324.95" width="28.10" height="6.90" fill="#d6d7f1"/>
<text x="64.90" y="330.37" font-size="6.55" text-anchor="start" font-weight="normal" fill="#00a651" stroke="#00a651" stroke-width="0.10" transform="rotate(0.03 64.90 330.37)">Ap2a2</text>
<rect x="5.20" y="331.80" width="28.20" height="6.90" fill="#f8faff"/>
<rect x="33.40" y="331.80" width="28.10" height="6.90" fill="#d3d4f0"/>
<text x="64.90" y="337.22" font-size="6.55" text-anchor="start" font-weight="normal" fill="#00a651" stroke="#00a651" stroke-width="0.10" transform="rotate(0.03 64.90 337.22)">Sec22b</text>
<rect x="5.20" y="338.64" width="28.20" height="6.90" fill="#fdd6d4"/>
<rect x="33.40" y="338.64" width="28.10" height="6.90" fill="#d0d1ee"/>
<text x="64.90" y="344.07" font-size="6.55" text-anchor="start" font-weight="normal" fill="#111" stroke="#111" stroke-width="0.18" transform="rotate(0.03 64.90 344.07)">Arf4</text>
<rect x="5.20" y="345.49" width="28.20" height="6.90" fill="#f9fbff"/>
<rect x="33.40" y="345.49" width="28.10" height="6.90" fill="#cfd0ee"/>
<text x="64.90" y="350.91" font-size="6.55" text-anchor="start" font-weight="normal" fill="#00a651" stroke="#00a651" stroke-width="0.10" transform="rotate(0.03 64.90 350.91)">Ank1</text>
<rect x="5.20" y="352.33" width="28.20" height="6.90" fill="#fff8f6"/>
<rect x="33.40" y="352.33" width="28.10" height="6.90" fill="#cdceed"/>
<text x="64.90" y="357.76" font-size="6.55" text-anchor="start" font-weight="normal" fill="#00a651" stroke="#00a651" stroke-width="0.10" transform="rotate(0.03 64.90 357.76)">Arf5</text>
<rect x="5.20" y="359.18" width="28.20" height="6.90" fill="#cbccee"/>
<rect x="33.40" y="359.18" width="28.10" height="6.90" fill="#d0d1ef"/>
<text x="64.90" y="364.60" font-size="6.55" text-anchor="start" font-weight="normal" fill="#00a651" stroke="#00a651" stroke-width="0.10" transform="rotate(0.03 64.90 364.60)">Lman2</text>
<rect x="5.20" y="366.03" width="28.20" height="6.90" fill="#e6e7f7"/>
<rect x="33.40" y="366.03" width="28.10" height="6.90" fill="#c9caec"/>
<text x="64.90" y="371.45" font-size="6.55" text-anchor="start" font-weight="normal" fill="#00a651" stroke="#00a651" stroke-width="0.10" transform="rotate(0.03 64.90 371.45)">Spag9</text>
<rect x="5.20" y="372.87" width="28.20" height="6.90" fill="#fde8e4"/>
<rect x="33.40" y="372.87" width="28.10" height="6.90" fill="#c0c1e9"/>
<text x="64.90" y="378.30" font-size="6.55" text-anchor="start" font-weight="normal" fill="#111" stroke="#111" stroke-width="0.18" transform="rotate(0.03 64.90 378.30)">Cul3</text>
<rect x="5.20" y="379.72" width="28.20" height="6.90" fill="#fff0ee"/>
<rect x="33.40" y="379.72" width="28.10" height="6.90" fill="#a9abdf"/>
<text x="64.90" y="385.14" font-size="6.55" text-anchor="start" font-weight="normal" fill="#00a651" stroke="#00a651" stroke-width="0.10" transform="rotate(0.03 64.90 385.14)">Ap1g1</text>
<rect x="5.20" y="386.56" width="28.20" height="6.90" fill="#e0e1f5"/>
<rect x="33.40" y="386.56" width="28.10" height="6.90" fill="#a7a9de"/>
<text x="64.90" y="391.99" font-size="6.55" text-anchor="start" font-weight="normal" fill="#00a651" stroke="#00a651" stroke-width="0.10" transform="rotate(0.03 64.90 391.99)">Sar1a</text>
<rect x="5.20" y="393.41" width="28.20" height="6.90" fill="#c8c9ed"/>
<rect x="33.40" y="393.41" width="28.10" height="6.90" fill="#a5a7dd"/>
<text x="64.90" y="398.83" font-size="6.55" text-anchor="start" font-weight="normal" fill="#111" stroke="#111" stroke-width="0.18" transform="rotate(0.03 64.90 398.83)">Vapb</text>
<rect x="5.20" y="400.26" width="28.20" height="6.90" fill="#f6f9ff"/>
<rect x="33.40" y="400.26" width="28.10" height="6.90" fill="#a3a5dc"/>
<text x="64.90" y="405.68" font-size="6.55" text-anchor="start" font-weight="normal" fill="#00a651" stroke="#00a651" stroke-width="0.10" transform="rotate(0.03 64.90 405.68)">Ap1m1</text>
<rect x="5.20" y="407.10" width="28.20" height="6.90" fill="#f8faff"/>
<rect x="33.40" y="407.10" width="28.10" height="6.90" fill="#a1a3db"/>
<text x="64.90" y="412.52" font-size="6.55" text-anchor="start" font-weight="normal" fill="#00a651" stroke="#00a651" stroke-width="0.10" transform="rotate(0.03 64.90 412.52)">Rtn3</text>
<rect x="5.20" y="413.95" width="28.20" height="6.90" fill="#e8e9f8"/>
<rect x="33.40" y="413.95" width="28.10" height="6.90" fill="#9fa1da"/>
<text x="64.90" y="419.37" font-size="6.55" text-anchor="start" font-weight="normal" fill="#111" stroke="#111" stroke-width="0.18" transform="rotate(0.03 64.90 419.37)">Ddhd2</text>
<rect x="5.20" y="420.79" width="28.20" height="6.90" fill="#eeeffa"/>
<rect x="33.40" y="420.79" width="28.10" height="6.90" fill="#9c9edb"/>
<text x="64.90" y="426.22" font-size="6.55" text-anchor="start" font-weight="normal" fill="#111" stroke="#111" stroke-width="0.18" transform="rotate(0.03 64.90 426.22)">Use1</text>
<rect x="5.20" y="427.64" width="28.20" height="6.90" fill="#bfc0ea"/>
<rect x="33.40" y="427.64" width="28.10" height="6.90" fill="#9395d6"/>
<text x="64.90" y="433.06" font-size="6.55" text-anchor="start" font-weight="normal" fill="#00a651" stroke="#00a651" stroke-width="0.10" transform="rotate(0.03 64.90 433.06)">Atl3</text>
<rect x="5.20" y="434.49" width="28.20" height="6.90" fill="#fff4f2"/>
<rect x="33.40" y="434.49" width="28.10" height="6.90" fill="#8f91d4"/>
<text x="64.90" y="439.91" font-size="6.55" text-anchor="start" font-weight="normal" fill="#00a651" stroke="#00a651" stroke-width="0.10" transform="rotate(0.03 64.90 439.91)">Ap2a1</text>
<rect x="5.20" y="441.33" width="28.20" height="6.90" fill="#fffdfb"/>
<rect x="33.40" y="441.33" width="28.10" height="6.90" fill="#8789d1"/>
<text x="64.90" y="446.75" font-size="6.55" text-anchor="start" font-weight="normal" fill="#00a651" stroke="#00a651" stroke-width="0.10" transform="rotate(0.03 64.90 446.75)">Ap1b1</text>
<rect x="5.20" y="448.18" width="28.20" height="6.90" fill="#fff2f0"/>
<rect x="33.40" y="448.18" width="28.10" height="6.90" fill="#8385cf"/>
<text x="64.90" y="453.60" font-size="6.55" text-anchor="start" font-weight="normal" fill="#00a651" stroke="#00a651" stroke-width="0.10" transform="rotate(0.03 64.90 453.60)">Gsn</text>
<rect x="5.20" y="455.02" width="28.20" height="6.90" fill="#fee2e0"/>
<rect x="33.40" y="455.02" width="28.10" height="6.90" fill="#8082ce"/>
<text x="64.90" y="460.45" font-size="6.55" text-anchor="start" font-weight="normal" fill="#111" stroke="#111" stroke-width="0.18" transform="rotate(0.03 64.90 460.45)">Vps39</text>
<rect x="5.20" y="461.87" width="28.20" height="6.90" fill="#f8faff"/>
<rect x="33.40" y="461.87" width="28.10" height="6.90" fill="#7c7fcd"/>
<text x="64.90" y="467.29" font-size="6.55" text-anchor="start" font-weight="normal" fill="#00a651" stroke="#00a651" stroke-width="0.10" transform="rotate(0.03 64.90 467.29)">Ap3d1</text>
<rect x="5.20" y="468.72" width="28.20" height="6.90" fill="#d8d9f3"/>
<rect x="33.40" y="468.72" width="28.10" height="6.90" fill="#6b72c8"/>
<text x="64.90" y="474.14" font-size="6.55" text-anchor="start" font-weight="normal" fill="#111" stroke="#111" stroke-width="0.18" transform="rotate(0.03 64.90 474.14)">Pdcd6</text>
<rect x="5.20" y="475.56" width="28.20" height="6.90" fill="#fff2f0"/>
<rect x="33.40" y="475.56" width="28.10" height="6.90" fill="#646cc6"/>
<text x="64.90" y="480.99" font-size="6.55" text-anchor="start" font-weight="normal" fill="#00a651" stroke="#00a651" stroke-width="0.10" transform="rotate(0.03 64.90 480.99)">Ap2m1</text>
<rect x="5.20" y="482.41" width="28.20" height="6.90" fill="#f8faff"/>
<rect x="33.40" y="482.41" width="28.10" height="6.90" fill="#5e67c3"/>
<text x="64.90" y="487.83" font-size="6.55" text-anchor="start" font-weight="normal" fill="#111" stroke="#111" stroke-width="0.18" transform="rotate(0.03 64.90 487.83)">Trappc12</text>
<rect x="5.20" y="489.25" width="28.20" height="6.90" fill="#fee4e2"/>
<rect x="33.40" y="489.25" width="28.10" height="6.90" fill="#4c5abd"/>
<text x="64.90" y="494.68" font-size="6.55" text-anchor="start" font-weight="normal" fill="#00a651" stroke="#00a651" stroke-width="0.10" transform="rotate(0.03 64.90 494.68)">Scf1</text>
<rect x="5.20" y="496.10" width="28.20" height="6.90" fill="#e4e6f7"/>
<rect x="33.40" y="496.10" width="28.10" height="6.90" fill="#4259bd"/>
<text x="64.90" y="501.52" font-size="6.55" text-anchor="start" font-weight="normal" fill="#00a651" stroke="#00a651" stroke-width="0.10" transform="rotate(0.03 64.90 501.52)">Napg</text>
<rect x="5.20" y="502.95" width="28.20" height="6.90" fill="#eef0fb"/>
<rect x="33.40" y="502.95" width="28.10" height="6.90" fill="#3956bb"/>
<text x="64.90" y="508.37" font-size="6.55" text-anchor="start" font-weight="normal" fill="#111" stroke="#111" stroke-width="0.18" transform="rotate(0.03 64.90 508.37)">Vamp2</text>
<rect x="5.20" y="509.79" width="28.20" height="6.90" fill="#fff6f4"/>
<rect x="33.40" y="509.79" width="28.10" height="6.90" fill="#244db5"/>
<text x="64.90" y="515.22" font-size="6.55" text-anchor="start" font-weight="normal" fill="#111" stroke="#111" stroke-width="0.18" transform="rotate(0.03 64.90 515.22)">Ap3b2</text>
<rect x="5.20" y="516.64" width="28.20" height="6.90" fill="#bfc0ea"/>
<rect x="33.40" y="516.64" width="28.10" height="6.90" fill="#2b51b7"/>
<text x="64.90" y="522.06" font-size="6.55" text-anchor="start" font-weight="normal" fill="#111" stroke="#111" stroke-width="0.18" transform="rotate(0.03 64.90 522.06)">Rab6a</text>
<rect x="5.20" y="523.48" width="28.20" height="6.90" fill="#fbb8b8"/>
<rect x="33.40" y="523.48" width="28.10" height="6.90" fill="#1648ad"/>
<text x="64.90" y="528.91" font-size="6.55" text-anchor="start" font-weight="normal" fill="#111" stroke="#111" stroke-width="0.18" transform="rotate(0.03 64.90 528.91)">Myo5a</text>
<rect x="5.20" y="530.33" width="28.20" height="6.90" fill="#e0e2f6"/>
<rect x="33.40" y="530.33" width="28.10" height="6.90" fill="#0d45a8"/>
<text x="64.90" y="535.75" font-size="6.55" text-anchor="start" font-weight="normal" fill="#00a651" stroke="#00a651" stroke-width="0.10" transform="rotate(0.03 64.90 535.75)">Gga3</text>
<line x1="5.20" y1="160.65" x2="61.50" y2="160.65" stroke="#a7aa9a" stroke-width="0.62" stroke-opacity="1.00"/>
<line x1="5.20" y1="167.49" x2="61.50" y2="167.49" stroke="#a7aa9a" stroke-width="0.62" stroke-opacity="1.00"/>
<line x1="5.20" y1="174.34" x2="61.50" y2="174.34" stroke="#a7aa9a" stroke-width="0.62" stroke-opacity="1.00"/>
<line x1="5.20" y1="181.18" x2="61.50" y2="181.18" stroke="#a7aa9a" stroke-width="0.62" stroke-opacity="1.00"/>
<line x1="5.20" y1="188.03" x2="61.50" y2="188.03" stroke="#a7aa9a" stroke-width="0.62" stroke-opacity="1.00"/>
<line x1="5.20" y1="194.88" x2="61.50" y2="194.88" stroke="#a7aa9a" stroke-width="0.62" stroke-opacity="1.00"/>
<line x1="5.20" y1="201.72" x2="61.50" y2="201.72" stroke="#a7aa9a" stroke-width="0.62" stroke-opacity="1.00"/>
<line x1="5.20" y1="208.57" x2="61.50" y2="208.57" stroke="#a7aa9a" stroke-width="0.62" stroke-opacity="1.00"/>
<line x1="5.20" y1="215.41" x2="61.50" y2="215.41" stroke="#a7aa9a" stroke-width="0.62" stroke-opacity="1.00"/>
<line x1="5.20" y1="222.26" x2="61.50" y2="222.26" stroke="#a7aa9a" stroke-width="0.62" stroke-opacity="1.00"/>
<line x1="5.20" y1="229.11" x2="61.50" y2="229.11" stroke="#a7aa9a" stroke-width="0.62" stroke-opacity="1.00"/>
<line x1="5.20" y1="235.95" x2="61.50" y2="235.95" stroke="#a7aa9a" stroke-width="0.62" stroke-opacity="1.00"/>
<line x1="5.20" y1="242.80" x2="61.50" y2="242.80" stroke="#a7aa9a" stroke-width="0.62" stroke-opacity="1.00"/>
<line x1="5.20" y1="249.64" x2="61.50" y2="249.64" stroke="#a7aa9a" stroke-width="0.62" stroke-opacity="1.00"/>
<line x1="5.20" y1="256.49" x2="61.50" y2="256.49" stroke="#a7aa9a" stroke-width="0.62" stroke-opacity="1.00"/>
<line x1="5.20" y1="263.34" x2="61.50" y2="263.34" stroke="#a7aa9a" stroke-width="0.62" stroke-opacity="1.00"/>
<line x1="5.20" y1="270.18" x2="61.50" y2="270.18" stroke="#a7aa9a" stroke-width="0.62" stroke-opacity="1.00"/>
<line x1="5.20" y1="277.03" x2="61.50" y2="277.03" stroke="#a7aa9a" stroke-width="0.62" stroke-opacity="1.00"/>
<line x1="5.20" y1="283.87" x2="61.50" y2="283.87" stroke="#a7aa9a" stroke-width="0.62" stroke-opacity="1.00"/>
<line x1="5.20" y1="290.72" x2="61.50" y2="290.72" stroke="#a7aa9a" stroke-width="0.62" stroke-opacity="1.00"/>
<line x1="5.20" y1="297.57" x2="61.50" y2="297.57" stroke="#a7aa9a" stroke-width="0.62" stroke-opacity="1.00"/>
<line x1="5.20" y1="304.41" x2="61.50" y2="304.41" stroke="#a7aa9a" stroke-width="0.62" stroke-opacity="1.00"/>
<line x1="5.20" y1="311.26" x2="61.50" y2="311.26" stroke="#a7aa9a" stroke-width="0.62" stroke-opacity="1.00"/>
<line x1="5.20" y1="318.10" x2="61.50" y2="318.10" stroke="#a7aa9a" stroke-width="0.62" stroke-opacity="1.00"/>
<line x1="5.20" y1="324.95" x2="61.50" y2="324.95" stroke="#a7aa9a" stroke-width="0.62" stroke-opacity="1.00"/>
<line x1="5.20" y1="331.80" x2="61.50" y2="331.80" stroke="#a7aa9a" stroke-width="0.62" stroke-opacity="1.00"/>
<line x1="5.20" y1="338.64" x2="61.50" y2="338.64" stroke="#a7aa9a" stroke-width="0.62" stroke-opacity="1.00"/>
<line x1="5.20" y1="345.49" x2="61.50" y2="345.49" stroke="#a7aa9a" stroke-width="0.62" stroke-opacity="1.00"/>
<line x1="5.20" y1="352.33" x2="61.50" y2="352.33" stroke="#a7aa9a" stroke-width="0.62" stroke-opacity="1.00"/>
<line x1="5.20" y1="359.18" x2="61.50" y2="359.18" stroke="#a7aa9a" stroke-width="0.62" stroke-opacity="1.00"/>
<line x1="5.20" y1="366.03" x2="61.50" y2="366.03" stroke="#a7aa9a" stroke-width="0.62" stroke-opacity="1.00"/>
<line x1="5.20" y1="372.87" x2="61.50" y2="372.87" stroke="#a7aa9a" stroke-width="0.62" stroke-opacity="1.00"/>
<line x1="5.20" y1="379.72" x2="61.50" y2="379.72" stroke="#a7aa9a" stroke-width="0.62" stroke-opacity="1.00"/>
<line x1="5.20" y1="386.56" x2="61.50" y2="386.56" stroke="#a7aa9a" stroke-width="0.62" stroke-opacity="1.00"/>
<line x1="5.20" y1="393.41" x2="61.50" y2="393.41" stroke="#a7aa9a" stroke-width="0.62" stroke-opacity="1.00"/>
<line x1="5.20" y1="400.26" x2="61.50" y2="400.26" stroke="#a7aa9a" stroke-width="0.62" stroke-opacity="1.00"/>
<line x1="5.20" y1="407.10" x2="61.50" y2="407.10" stroke="#a7aa9a" stroke-width="0.62" stroke-opacity="1.00"/>
<line x1="5.20" y1="413.95" x2="61.50" y2="413.95" stroke="#a7aa9a" stroke-width="0.62" stroke-opacity="1.00"/>
<line x1="5.20" y1="420.79" x2="61.50" y2="420.79" stroke="#a7aa9a" stroke-width="0.62" stroke-opacity="1.00"/>
<line x1="5.20" y1="427.64" x2="61.50" y2="427.64" stroke="#a7aa9a" stroke-width="0.62" stroke-opacity="1.00"/>
<line x1="5.20" y1="434.49" x2="61.50" y2="434.49" stroke="#a7aa9a" stroke-width="0.62" stroke-opacity="1.00"/>
<line x1="5.20" y1="441.33" x2="61.50" y2="441.33" stroke="#a7aa9a" stroke-width="0.62" stroke-opacity="1.00"/>
<line x1="5.20" y1="448.18" x2="61.50" y2="448.18" stroke="#a7aa9a" stroke-width="0.62" stroke-opacity="1.00"/>
<line x1="5.20" y1="455.02" x2="61.50" y2="455.02" stroke="#a7aa9a" stroke-width="0.62" stroke-opacity="1.00"/>
<line x1="5.20" y1="461.87" x2="61.50" y2="461.87" stroke="#a7aa9a" stroke-width="0.62" stroke-opacity="1.00"/>
<line x1="5.20" y1="468.72" x2="61.50" y2="468.72" stroke="#a7aa9a" stroke-width="0.62" stroke-opacity="1.00"/>
<line x1="5.20" y1="475.56" x2="61.50" y2="475.56" stroke="#a7aa9a" stroke-width="0.62" stroke-opacity="1.00"/>
<line x1="5.20" y1="482.41" x2="61.50" y2="482.41" stroke="#a7aa9a" stroke-width="0.62" stroke-opacity="1.00"/>
<line x1="5.20" y1="489.25" x2="61.50" y2="489.25" stroke="#a7aa9a" stroke-width="0.62" stroke-opacity="1.00"/>
<line x1="5.20" y1="496.10" x2="61.50" y2="496.10" stroke="#a7aa9a" stroke-width="0.62" stroke-opacity="1.00"/>
<line x1="5.20" y1="502.95" x2="61.50" y2="502.95" stroke="#a7aa9a" stroke-width="0.62" stroke-opacity="1.00"/>
<line x1="5.20" y1="509.79" x2="61.50" y2="509.79" stroke="#a7aa9a" stroke-width="0.62" stroke-opacity="1.00"/>
<line x1="5.20" y1="516.64" x2="61.50" y2="516.64" stroke="#a7aa9a" stroke-width="0.62" stroke-opacity="1.00"/>
<line x1="5.20" y1="523.48" x2="61.50" y2="523.48" stroke="#a7aa9a" stroke-width="0.62" stroke-opacity="1.00"/>
<line x1="5.20" y1="530.33" x2="61.50" y2="530.33" stroke="#a7aa9a" stroke-width="0.62" stroke-opacity="1.00"/>
<line x1="33.40" y1="153.80" x2="33.40" y2="537.18" stroke="#a7aa9a" stroke-width="0.62" stroke-opacity="1.00"/>
<text x="19.10" y="142.50" font-size="6.72" text-anchor="start" font-weight="bold" fill="#111" stroke="#111" stroke-width="0.10" transform="rotate(0.03 19.10 142.50)">Brain vesicle-</text>
<text x="7.60" y="151.00" font-size="6.72" text-anchor="start" font-weight="bold" fill="#111" stroke="#111" stroke-width="0.10" transform="rotate(0.03 7.60 151.00)">mediated transport</text>
<text x="20.60" y="545.78" font-size="6.60" text-anchor="middle" font-weight="normal" fill="#111" stroke="#111" stroke-width="0.16" transform="rotate(0.03 20.60 545.78)">Full</text>
<text x="45.95" y="545.78" font-size="6.60" text-anchor="middle" font-weight="normal" fill="#111" stroke="#111" stroke-width="0.16" transform="rotate(0.03 45.95 545.78)">Con A</text>
<rect x="92.10" y="153.80" width="28.50" height="7.30" fill="#e7e9f8"/>
<rect x="120.60" y="153.80" width="27.50" height="7.30" fill="#f01a1e"/>
<text x="150.50" y="159.43" font-size="6.55" text-anchor="start" font-weight="normal" fill="#00a651" stroke="#00a651" stroke-width="0.10" transform="rotate(0.03 150.50 159.43)">Tmed2</text>
<rect x="92.10" y="161.06" width="28.50" height="7.30" fill="#c8caee"/>
<rect x="120.60" y="161.06" width="27.50" height="7.30" fill="#fa7a7a"/>
<text x="150.50" y="166.68" font-size="6.55" text-anchor="start" font-weight="normal" fill="#00a651" stroke="#00a651" stroke-width="0.10" transform="rotate(0.03 150.50 166.68)">Tmed9</text>
<rect x="92.10" y="168.31" width="28.50" height="7.30" fill="#cfd0ef"/>
<rect x="120.60" y="168.31" width="27.50" height="7.30" fill="#fb8a8a"/>
<text x="150.50" y="173.94" font-size="6.55" text-anchor="start" font-weight="normal" fill="#00a651" stroke="#00a651" stroke-width="0.10" transform="rotate(0.03 150.50 173.94)">Tmed10</text>
<rect x="92.10" y="175.56" width="28.50" height="7.30" fill="#fafbfe"/>
<rect x="120.60" y="175.56" width="27.50" height="7.30" fill="#fb9292"/>
<text x="150.50" y="181.19" font-size="6.55" text-anchor="start" font-weight="normal" fill="#00a651" stroke="#00a651" stroke-width="0.10" transform="rotate(0.03 150.50 181.19)">Surf4</text>
<rect x="92.10" y="182.82" width="28.50" height="7.30" fill="#c4c6ec"/>
<rect x="120.60" y="182.82" width="27.50" height="7.30" fill="#fcaaaa"/>
<text x="150.50" y="188.45" font-size="6.55" text-anchor="start" font-weight="normal" fill="#00a651" stroke="#00a651" stroke-width="0.10" transform="rotate(0.03 150.50 188.45)">Rab1A</text>
<rect x="92.10" y="190.08" width="28.50" height="7.30" fill="#fdd5d3"/>
<rect x="120.60" y="190.08" width="27.50" height="7.30" fill="#fcb8b8"/>
<text x="150.50" y="195.70" font-size="6.55" text-anchor="start" font-weight="normal" fill="#00a651" stroke="#00a651" stroke-width="0.10" transform="rotate(0.03 150.50 195.70)">Atl2</text>
<rect x="92.10" y="197.33" width="28.50" height="7.30" fill="#fffaf6"/>
<rect x="120.60" y="197.33" width="27.50" height="7.30" fill="#fdc8c8"/>
<text x="150.50" y="202.96" font-size="6.55" text-anchor="start" font-weight="normal" fill="#00a651" stroke="#00a651" stroke-width="0.10" transform="rotate(0.03 150.50 202.96)">Sec23ip</text>
<rect x="92.10" y="204.59" width="28.50" height="7.30" fill="#fedddb"/>
<rect x="120.60" y="204.59" width="27.50" height="7.30" fill="#fed9d7"/>
<text x="150.50" y="210.21" font-size="6.55" text-anchor="start" font-weight="normal" fill="#111" stroke="#111" stroke-width="0.18" transform="rotate(0.03 150.50 210.21)">Myo18a</text>
<rect x="92.10" y="211.84" width="28.50" height="7.30" fill="#b4b9b9"/>
<rect x="120.60" y="211.84" width="27.50" height="7.30" fill="#fee0e0"/>
<text x="150.50" y="217.47" font-size="6.55" text-anchor="start" font-weight="normal" fill="#00a651" stroke="#00a651" stroke-width="0.10" transform="rotate(0.03 150.50 217.47)">Obsl1</text>
<rect x="92.10" y="219.10" width="28.50" height="7.30" fill="#c4c6ec"/>
<rect x="120.60" y="219.10" width="27.50" height="7.30" fill="#fcfcff"/>
<text x="150.50" y="224.72" font-size="6.55" text-anchor="start" font-weight="normal" fill="#00a651" stroke="#00a651" stroke-width="0.10" transform="rotate(0.03 150.50 224.72)">Rab2a</text>
<rect x="92.10" y="226.35" width="28.50" height="7.30" fill="#fee8e4"/>
<rect x="120.60" y="226.35" width="27.50" height="7.30" fill="#f3f4fc"/>
<text x="150.50" y="231.98" font-size="6.55" text-anchor="start" font-weight="normal" fill="#00a651" stroke="#00a651" stroke-width="0.10" transform="rotate(0.03 150.50 231.98)">Clasp1</text>
<rect x="92.10" y="233.61" width="28.50" height="7.30" fill="#c4c6ec"/>
<rect x="120.60" y="233.61" width="27.50" height="7.30" fill="#d9dbf3"/>
<text x="150.50" y="239.23" font-size="6.55" text-anchor="start" font-weight="normal" fill="#111" stroke="#111" stroke-width="0.18" transform="rotate(0.03 150.50 239.23)">Nsfl1c</text>
<rect x="92.10" y="240.86" width="28.50" height="7.30" fill="#fffdfb"/>
<rect x="120.60" y="240.86" width="27.50" height="7.30" fill="#c4c6eb"/>
<text x="150.50" y="246.49" font-size="6.55" text-anchor="start" font-weight="normal" fill="#111" stroke="#111" stroke-width="0.18" transform="rotate(0.03 150.50 246.49)">Arf1</text>
<rect x="92.10" y="248.12" width="28.50" height="7.30" fill="#f1f3fc"/>
<rect x="120.60" y="248.12" width="27.50" height="7.30" fill="#5a67c2"/>
<text x="150.50" y="253.74" font-size="6.55" text-anchor="start" font-weight="normal" fill="#111" stroke="#111" stroke-width="0.18" transform="rotate(0.03 150.50 253.74)">Csnk1a1</text>
<rect x="92.10" y="255.37" width="28.50" height="7.30" fill="#cfd1f0"/>
<rect x="120.60" y="255.37" width="27.50" height="7.30" fill="#4559bb"/>
<text x="150.50" y="261.00" font-size="6.55" text-anchor="start" font-weight="normal" fill="#00a651" stroke="#00a651" stroke-width="0.10" transform="rotate(0.03 150.50 261.00)">Cdc42</text>
<rect x="92.10" y="262.62" width="28.50" height="7.30" fill="#f1f3fc"/>
<rect x="120.60" y="262.62" width="27.50" height="7.30" fill="#2c50b6"/>
<text x="150.50" y="268.25" font-size="6.55" text-anchor="start" font-weight="normal" fill="#111" stroke="#111" stroke-width="0.18" transform="rotate(0.03 150.50 268.25)">Ehd3</text>
<rect x="92.10" y="269.88" width="28.50" height="7.30" fill="#ffecea"/>
<rect x="120.60" y="269.88" width="27.50" height="7.30" fill="#1748ad"/>
<text x="150.50" y="275.51" font-size="6.55" text-anchor="start" font-weight="normal" fill="#00a651" stroke="#00a651" stroke-width="0.10" transform="rotate(0.03 150.50 275.51)">Clasp2</text>
<line x1="92.10" y1="161.06" x2="148.10" y2="161.06" stroke="#a7aa9a" stroke-width="0.62" stroke-opacity="1.00"/>
<line x1="92.10" y1="168.31" x2="148.10" y2="168.31" stroke="#a7aa9a" stroke-width="0.62" stroke-opacity="1.00"/>
<line x1="92.10" y1="175.56" x2="148.10" y2="175.56" stroke="#a7aa9a" stroke-width="0.62" stroke-opacity="1.00"/>
<line x1="92.10" y1="182.82" x2="148.10" y2="182.82" stroke="#a7aa9a" stroke-width="0.62" stroke-opacity="1.00"/>
<line x1="92.10" y1="190.08" x2="148.10" y2="190.08" stroke="#a7aa9a" stroke-width="0.62" stroke-opacity="1.00"/>
<line x1="92.10" y1="197.33" x2="148.10" y2="197.33" stroke="#a7aa9a" stroke-width="0.62" stroke-opacity="1.00"/>
<line x1="92.10" y1="204.59" x2="148.10" y2="204.59" stroke="#a7aa9a" stroke-width="0.62" stroke-opacity="1.00"/>
<line x1="92.10" y1="211.84" x2="148.10" y2="211.84" stroke="#a7aa9a" stroke-width="0.62" stroke-opacity="1.00"/>
<line x1="92.10" y1="219.10" x2="148.10" y2="219.10" stroke="#a7aa9a" stroke-width="0.62" stroke-opacity="1.00"/>
<line x1="92.10" y1="226.35" x2="148.10" y2="226.35" stroke="#a7aa9a" stroke-width="0.62" stroke-opacity="1.00"/>
<line x1="92.10" y1="233.61" x2="148.10" y2="233.61" stroke="#a7aa9a" stroke-width="0.62" stroke-opacity="1.00"/>
<line x1="92.10" y1="240.86" x2="148.10" y2="240.86" stroke="#a7aa9a" stroke-width="0.62" stroke-opacity="1.00"/>
<line x1="92.10" y1="248.12" x2="148.10" y2="248.12" stroke="#a7aa9a" stroke-width="0.62" stroke-opacity="1.00"/>
<line x1="92.10" y1="255.37" x2="148.10" y2="255.37" stroke="#a7aa9a" stroke-width="0.62" stroke-opacity="1.00"/>
<line x1="92.10" y1="262.62" x2="148.10" y2="262.62" stroke="#a7aa9a" stroke-width="0.62" stroke-opacity="1.00"/>
<line x1="92.10" y1="269.88" x2="148.10" y2="269.88" stroke="#a7aa9a" stroke-width="0.62" stroke-opacity="1.00"/>
<line x1="120.60" y1="153.80" x2="120.60" y2="277.13" stroke="#a7aa9a" stroke-width="0.62" stroke-opacity="1.00"/>
<text x="92.40" y="150.70" font-size="6.72" text-anchor="start" font-weight="bold" fill="#111" stroke="#111" stroke-width="0.10" transform="rotate(0.03 92.40 150.70)">Brain Golgi organization</text>
<text x="107.75" y="285.93" font-size="6.60" text-anchor="middle" font-weight="normal" fill="#111" stroke="#111" stroke-width="0.16" transform="rotate(0.03 107.75 285.93)">Full</text>
<text x="133.35" y="285.93" font-size="6.60" text-anchor="middle" font-weight="normal" fill="#111" stroke="#111" stroke-width="0.16" transform="rotate(0.03 133.35 285.93)">Con A</text>
<rect x="179.70" y="153.80" width="28.20" height="7.38" fill="#fee0e0"/>
<rect x="207.90" y="153.80" width="27.40" height="7.38" fill="#f21a1e"/>
<text x="238.30" y="159.46" font-size="6.55" text-anchor="start" font-weight="normal" fill="#00a651" stroke="#00a651" stroke-width="0.10" transform="rotate(0.03 238.30 159.46)">Ctsl</text>
<rect x="179.70" y="161.12" width="28.20" height="7.38" fill="#fee4e4"/>
<rect x="207.90" y="161.12" width="27.40" height="7.38" fill="#fb5858"/>
<text x="238.30" y="166.79" font-size="6.55" text-anchor="start" font-weight="normal" fill="#00a651" stroke="#00a651" stroke-width="0.10" transform="rotate(0.03 238.30 166.79)">Serpinh1</text>
<rect x="179.70" y="168.45" width="28.20" height="7.38" fill="#f9fbff"/>
<rect x="207.90" y="168.45" width="27.40" height="7.38" fill="#fb6060"/>
<text x="238.30" y="174.11" font-size="6.55" text-anchor="start" font-weight="normal" fill="#00a651" stroke="#00a651" stroke-width="0.10" transform="rotate(0.03 238.30 174.11)">Serpine2</text>
<rect x="179.70" y="175.78" width="28.20" height="7.38" fill="#c1c3eb"/>
<rect x="207.90" y="175.78" width="27.40" height="7.38" fill="#fb6666"/>
<text x="238.30" y="181.44" font-size="6.55" text-anchor="start" font-weight="normal" fill="#00a651" stroke="#00a651" stroke-width="0.10" transform="rotate(0.03 238.30 181.44)">Bola2</text>
<rect x="179.70" y="183.10" width="28.20" height="7.38" fill="#9a9cda"/>
<rect x="207.90" y="183.10" width="27.40" height="7.38" fill="#fb6c6c"/>
<text x="238.30" y="188.76" font-size="6.55" text-anchor="start" font-weight="normal" fill="#00a651" stroke="#00a651" stroke-width="0.10" transform="rotate(0.03 238.30 188.76)">Ero1a</text>
<rect x="179.70" y="190.43" width="28.20" height="7.38" fill="#b4b9b9"/>
<rect x="207.90" y="190.43" width="27.40" height="7.38" fill="#fca4a4"/>
<text x="238.30" y="196.09" font-size="6.55" text-anchor="start" font-weight="normal" fill="#00a651" stroke="#00a651" stroke-width="0.10" transform="rotate(0.03 238.30 196.09)">Aebp1</text>
<rect x="179.70" y="197.75" width="28.20" height="7.38" fill="#fee0e0"/>
<rect x="207.90" y="197.75" width="27.40" height="7.38" fill="#fcabab"/>
<text x="238.30" y="203.41" font-size="6.55" text-anchor="start" font-weight="normal" fill="#00a651" stroke="#00a651" stroke-width="0.10" transform="rotate(0.03 238.30 203.41)">Prkacb</text>
<rect x="179.70" y="205.08" width="28.20" height="7.38" fill="#b4b9b9"/>
<rect x="207.90" y="205.08" width="27.40" height="7.38" fill="#fdd0d0"/>
<text x="238.30" y="210.74" font-size="6.55" text-anchor="start" font-weight="normal" fill="#00a651" stroke="#00a651" stroke-width="0.10" transform="rotate(0.03 238.30 210.74)">Aga</text>
<rect x="179.70" y="212.40" width="28.20" height="7.38" fill="#c8caee"/>
<rect x="207.90" y="212.40" width="27.40" height="7.38" fill="#fdd4d4"/>
<text x="238.30" y="218.06" font-size="6.55" text-anchor="start" font-weight="normal" fill="#00a651" stroke="#00a651" stroke-width="0.10" transform="rotate(0.03 238.30 218.06)">Metap2</text>
<rect x="179.70" y="219.73" width="28.20" height="7.38" fill="#dfe1f6"/>
<rect x="207.90" y="219.73" width="27.40" height="7.38" fill="#fedcdc"/>
<text x="238.30" y="225.39" font-size="6.55" text-anchor="start" font-weight="normal" fill="#00a651" stroke="#00a651" stroke-width="0.10" transform="rotate(0.03 238.30 225.39)">Chchd4</text>
<rect x="179.70" y="227.05" width="28.20" height="7.38" fill="#dcdef4"/>
<rect x="207.90" y="227.05" width="27.40" height="7.38" fill="#fff0ee"/>
<text x="238.30" y="232.71" font-size="6.55" text-anchor="start" font-weight="normal" fill="#00a651" stroke="#00a651" stroke-width="0.10" transform="rotate(0.03 238.30 232.71)">Stoml2</text>
<rect x="179.70" y="234.38" width="28.20" height="7.38" fill="#fbb5b5"/>
<rect x="207.90" y="234.38" width="27.40" height="7.38" fill="#eff0fb"/>
<text x="238.30" y="240.04" font-size="6.55" text-anchor="start" font-weight="normal" fill="#00a651" stroke="#00a651" stroke-width="0.10" transform="rotate(0.03 238.30 240.04)">Uqcrc2</text>
<rect x="179.70" y="241.70" width="28.20" height="7.38" fill="#9c9edb"/>
<rect x="207.90" y="241.70" width="27.40" height="7.38" fill="#ecedf9"/>
<text x="238.30" y="247.36" font-size="6.55" text-anchor="start" font-weight="normal" fill="#00a651" stroke="#00a651" stroke-width="0.10" transform="rotate(0.03 238.30 247.36)">Ctss</text>
<rect x="179.70" y="249.03" width="28.20" height="7.38" fill="#9ea0dc"/>
<rect x="207.90" y="249.03" width="27.40" height="7.38" fill="#e3e4f6"/>
<text x="238.30" y="254.69" font-size="6.55" text-anchor="start" font-weight="normal" fill="#00a651" stroke="#00a651" stroke-width="0.10" transform="rotate(0.03 238.30 254.69)">Glg1</text>
<rect x="179.70" y="256.35" width="28.20" height="7.38" fill="#ffeeec"/>
<rect x="207.90" y="256.35" width="27.40" height="7.38" fill="#dcddf3"/>
<text x="238.30" y="262.01" font-size="6.55" text-anchor="start" font-weight="normal" fill="#00a651" stroke="#00a651" stroke-width="0.10" transform="rotate(0.03 238.30 262.01)">Vps35</text>
<rect x="179.70" y="263.68" width="28.20" height="7.38" fill="#b9bbe6"/>
<rect x="207.90" y="263.68" width="27.40" height="7.38" fill="#dfe0f5"/>
<text x="238.30" y="269.34" font-size="6.55" text-anchor="start" font-weight="normal" fill="#00a651" stroke="#00a651" stroke-width="0.10" transform="rotate(0.03 238.30 269.34)">Pcsk2</text>
<rect x="179.70" y="271.00" width="28.20" height="7.38" fill="#fbb1b1"/>
<rect x="207.90" y="271.00" width="27.40" height="7.38" fill="#c6c8ec"/>
<text x="238.30" y="276.66" font-size="6.55" text-anchor="start" font-weight="normal" fill="#00a651" stroke="#00a651" stroke-width="0.10" transform="rotate(0.03 238.30 276.66)">Myh9</text>
<rect x="179.70" y="278.33" width="28.20" height="7.38" fill="#b5b7e5"/>
<rect x="207.90" y="278.33" width="27.40" height="7.38" fill="#c8c9ed"/>
<text x="238.30" y="283.99" font-size="6.55" text-anchor="start" font-weight="normal" fill="#00a651" stroke="#00a651" stroke-width="0.10" transform="rotate(0.03 238.30 283.99)">Adam10</text>
<rect x="179.70" y="285.65" width="28.20" height="7.38" fill="#d1d3f0"/>
<rect x="207.90" y="285.65" width="27.40" height="7.38" fill="#c3c5ea"/>
<text x="238.30" y="291.31" font-size="6.55" text-anchor="start" font-weight="normal" fill="#00a651" stroke="#00a651" stroke-width="0.10" transform="rotate(0.03 238.30 291.31)">Uqcrc1</text>
<rect x="179.70" y="292.98" width="28.20" height="7.38" fill="#fbb8b8"/>
<rect x="207.90" y="292.98" width="27.40" height="7.38" fill="#a3a5dd"/>
<text x="238.30" y="298.64" font-size="6.55" text-anchor="start" font-weight="normal" fill="#00a651" stroke="#00a651" stroke-width="0.10" transform="rotate(0.03 238.30 298.64)">Ctnnd1</text>
<rect x="179.70" y="300.30" width="28.20" height="7.38" fill="#e6e8f8"/>
<rect x="207.90" y="300.30" width="27.40" height="7.38" fill="#9a9cda"/>
<text x="238.30" y="305.96" font-size="6.55" text-anchor="start" font-weight="normal" fill="#00a651" stroke="#00a651" stroke-width="0.10" transform="rotate(0.03 238.30 305.96)">Cpd</text>
<rect x="179.70" y="307.62" width="28.20" height="7.38" fill="#fedede"/>
<rect x="207.90" y="307.62" width="27.40" height="7.38" fill="#4b5dbc"/>
<text x="238.30" y="313.29" font-size="6.55" text-anchor="start" font-weight="normal" fill="#00a651" stroke="#00a651" stroke-width="0.10" transform="rotate(0.03 238.30 313.29)">Afg3l2</text>
<rect x="179.70" y="314.95" width="28.20" height="7.38" fill="#b4b9b9"/>
<rect x="207.90" y="314.95" width="27.40" height="7.38" fill="#5161be"/>
<text x="238.30" y="320.61" font-size="6.55" text-anchor="start" font-weight="normal" fill="#00a651" stroke="#00a651" stroke-width="0.10" transform="rotate(0.03 238.30 320.61)">Ece1</text>
<rect x="179.70" y="322.27" width="28.20" height="7.38" fill="#fee4e4"/>
<rect x="207.90" y="322.27" width="27.40" height="7.38" fill="#2651b6"/>
<text x="238.30" y="327.94" font-size="6.55" text-anchor="start" font-weight="normal" fill="#00a651" stroke="#00a651" stroke-width="0.10" transform="rotate(0.03 238.30 327.94)">Gsn</text>
<rect x="179.70" y="329.60" width="28.20" height="7.38" fill="#e0e2f6"/>
<rect x="207.90" y="329.60" width="27.40" height="7.38" fill="#224eb4"/>
<text x="238.30" y="335.26" font-size="6.55" text-anchor="start" font-weight="normal" fill="#00a651" stroke="#00a651" stroke-width="0.10" transform="rotate(0.03 238.30 335.26)">Stub1</text>
<rect x="179.70" y="336.93" width="28.20" height="7.38" fill="#ccceef"/>
<rect x="207.90" y="336.93" width="27.40" height="7.38" fill="#1d4bb2"/>
<text x="238.30" y="342.59" font-size="6.55" text-anchor="start" font-weight="normal" fill="#111" stroke="#111" stroke-width="0.18" transform="rotate(0.03 238.30 342.59)">Isca1</text>
<rect x="179.70" y="344.25" width="28.20" height="7.38" fill="#c8caee"/>
<rect x="207.90" y="344.25" width="27.40" height="7.38" fill="#1047ad"/>
<text x="238.30" y="349.91" font-size="6.55" text-anchor="start" font-weight="normal" fill="#111" stroke="#111" stroke-width="0.18" transform="rotate(0.03 238.30 349.91)">Iscu</text>
<rect x="179.70" y="351.58" width="28.20" height="7.38" fill="#fdd0d0"/>
<rect x="207.90" y="351.58" width="27.40" height="7.38" fill="#0c45aa"/>
<text x="238.30" y="357.24" font-size="6.55" text-anchor="start" font-weight="normal" fill="#00a651" stroke="#00a651" stroke-width="0.10" transform="rotate(0.03 238.30 357.24)">Sorl1</text>
<line x1="179.70" y1="161.12" x2="235.30" y2="161.12" stroke="#a7aa9a" stroke-width="0.62" stroke-opacity="1.00"/>
<line x1="179.70" y1="168.45" x2="235.30" y2="168.45" stroke="#a7aa9a" stroke-width="0.62" stroke-opacity="1.00"/>
<line x1="179.70" y1="175.78" x2="235.30" y2="175.78" stroke="#a7aa9a" stroke-width="0.62" stroke-opacity="1.00"/>
<line x1="179.70" y1="183.10" x2="235.30" y2="183.10" stroke="#a7aa9a" stroke-width="0.62" stroke-opacity="1.00"/>
<line x1="179.70" y1="190.43" x2="235.30" y2="190.43" stroke="#a7aa9a" stroke-width="0.62" stroke-opacity="1.00"/>
<line x1="179.70" y1="197.75" x2="235.30" y2="197.75" stroke="#a7aa9a" stroke-width="0.62" stroke-opacity="1.00"/>
<line x1="179.70" y1="205.08" x2="235.30" y2="205.08" stroke="#a7aa9a" stroke-width="0.62" stroke-opacity="1.00"/>
<line x1="179.70" y1="212.40" x2="235.30" y2="212.40" stroke="#a7aa9a" stroke-width="0.62" stroke-opacity="1.00"/>
<line x1="179.70" y1="219.73" x2="235.30" y2="219.73" stroke="#a7aa9a" stroke-width="0.62" stroke-opacity="1.00"/>
<line x1="179.70" y1="227.05" x2="235.30" y2="227.05" stroke="#a7aa9a" stroke-width="0.62" stroke-opacity="1.00"/>
<line x1="179.70" y1="234.38" x2="235.30" y2="234.38" stroke="#a7aa9a" stroke-width="0.62" stroke-opacity="1.00"/>
<line x1="179.70" y1="241.70" x2="235.30" y2="241.70" stroke="#a7aa9a" stroke-width="0.62" stroke-opacity="1.00"/>
<line x1="179.70" y1="249.03" x2="235.30" y2="249.03" stroke="#a7aa9a" stroke-width="0.62" stroke-opacity="1.00"/>
<line x1="179.70" y1="256.35" x2="235.30" y2="256.35" stroke="#a7aa9a" stroke-width="0.62" stroke-opacity="1.00"/>
<line x1="179.70" y1="263.68" x2="235.30" y2="263.68" stroke="#a7aa9a" stroke-width="0.62" stroke-opacity="1.00"/>
<line x1="179.70" y1="271.00" x2="235.30" y2="271.00" stroke="#a7aa9a" stroke-width="0.62" stroke-opacity="1.00"/>
<line x1="179.70" y1="278.33" x2="235.30" y2="278.33" stroke="#a7aa9a" stroke-width="0.62" stroke-opacity="1.00"/>
<line x1="179.70" y1="285.65" x2="235.30" y2="285.65" stroke="#a7aa9a" stroke-width="0.62" stroke-opacity="1.00"/>
<line x1="179.70" y1="292.98" x2="235.30" y2="292.98" stroke="#a7aa9a" stroke-width="0.62" stroke-opacity="1.00"/>
<line x1="179.70" y1="300.30" x2="235.30" y2="300.30" stroke="#a7aa9a" stroke-width="0.62" stroke-opacity="1.00"/>
<line x1="179.70" y1="307.62" x2="235.30" y2="307.62" stroke="#a7aa9a" stroke-width="0.62" stroke-opacity="1.00"/>
<line x1="179.70" y1="314.95" x2="235.30" y2="314.95" stroke="#a7aa9a" stroke-width="0.62" stroke-opacity="1.00"/>
<line x1="179.70" y1="322.27" x2="235.30" y2="322.27" stroke="#a7aa9a" stroke-width="0.62" stroke-opacity="1.00"/>
<line x1="179.70" y1="329.60" x2="235.30" y2="329.60" stroke="#a7aa9a" stroke-width="0.62" stroke-opacity="1.00"/>
<line x1="179.70" y1="336.93" x2="235.30" y2="336.93" stroke="#a7aa9a" stroke-width="0.62" stroke-opacity="1.00"/>
<line x1="179.70" y1="344.25" x2="235.30" y2="344.25" stroke="#a7aa9a" stroke-width="0.62" stroke-opacity="1.00"/>
<line x1="179.70" y1="351.58" x2="235.30" y2="351.58" stroke="#a7aa9a" stroke-width="0.62" stroke-opacity="1.00"/>
<line x1="207.90" y1="153.80" x2="207.90" y2="358.90" stroke="#a7aa9a" stroke-width="0.62" stroke-opacity="1.00"/>
<text x="178.60" y="144.00" font-size="6.72" text-anchor="start" font-weight="bold" fill="#111" stroke="#111" stroke-width="0.10" transform="rotate(0.03 178.60 144.00)">Brain Protein maturation</text>
<text x="197.00" y="151.30" font-size="6.72" text-anchor="start" font-weight="bold" fill="#111" stroke="#111" stroke-width="0.10" transform="rotate(0.03 197.00 151.30)">and processing</text>
<text x="196.30" y="367.00" font-size="6.60" text-anchor="middle" font-weight="normal" fill="#111" stroke="#111" stroke-width="0.16" transform="rotate(0.03 196.30 367.00)">Full</text>
<text x="221.30" y="367.00" font-size="6.60" text-anchor="middle" font-weight="normal" fill="#111" stroke="#111" stroke-width="0.16" transform="rotate(0.03 221.30 367.00)">Con A</text>
<rect x="296.00" y="153.80" width="27.80" height="8.52" fill="#f92428"/>
<text x="325.60" y="160.03" font-size="6.55" text-anchor="start" font-weight="normal" fill="#00a651" stroke="#00a651" stroke-width="0.10" transform="rotate(0.03 325.60 160.03)">Cacna1s</text>
<rect x="296.00" y="162.27" width="27.80" height="8.52" fill="#fb8a8a"/>
<text x="325.60" y="168.50" font-size="6.55" text-anchor="start" font-weight="normal" fill="#00a651" stroke="#00a651" stroke-width="0.10" transform="rotate(0.03 325.60 168.50)">Casq1</text>
<rect x="296.00" y="170.73" width="27.80" height="8.52" fill="#fb9696"/>
<text x="325.60" y="176.96" font-size="6.55" text-anchor="start" font-weight="normal" fill="#00a651" stroke="#00a651" stroke-width="0.10" transform="rotate(0.03 325.60 176.96)">Tor1b</text>
<rect x="296.00" y="179.20" width="27.80" height="8.52" fill="#fcabab"/>
<text x="325.60" y="185.43" font-size="6.55" text-anchor="start" font-weight="normal" fill="#00a651" stroke="#00a651" stroke-width="0.10" transform="rotate(0.03 325.60 185.43)">Tor1aip2</text>
<rect x="268.00" y="187.66" width="28.00" height="8.52" fill="#fdd2d0"/>
<rect x="296.00" y="187.66" width="27.80" height="8.52" fill="#fdcccc"/>
<text x="325.60" y="193.89" font-size="6.55" text-anchor="start" font-weight="normal" fill="#00a651" stroke="#00a651" stroke-width="0.10" transform="rotate(0.03 325.60 193.89)">Atl2</text>
<rect x="268.00" y="196.12" width="28.00" height="8.52" fill="#fff0ec"/>
<rect x="296.00" y="196.12" width="27.80" height="8.52" fill="#fdd0d0"/>
<text x="325.60" y="202.36" font-size="6.55" text-anchor="start" font-weight="normal" fill="#111" stroke="#111" stroke-width="0.18" transform="rotate(0.03 325.60 202.36)">Col4a3bp</text>
<rect x="268.00" y="204.59" width="28.00" height="8.52" fill="#fff6f2"/>
<rect x="296.00" y="204.59" width="27.80" height="8.52" fill="#eff1fb"/>
<text x="325.60" y="210.82" font-size="6.55" text-anchor="start" font-weight="normal" fill="#00a651" stroke="#00a651" stroke-width="0.10" transform="rotate(0.03 325.60 210.82)">Ccdc47</text>
<rect x="268.00" y="213.06" width="28.00" height="8.52" fill="#b8bbe8"/>
<rect x="296.00" y="213.06" width="27.80" height="8.52" fill="#a8abe0"/>
<text x="325.60" y="219.29" font-size="6.55" text-anchor="start" font-weight="normal" fill="#111" stroke="#111" stroke-width="0.18" transform="rotate(0.03 325.60 219.29)">Vapb</text>
<rect x="268.00" y="221.52" width="28.00" height="8.52" fill="#eff1fb"/>
<rect x="296.00" y="221.52" width="27.80" height="8.52" fill="#a0a4de"/>
<text x="325.60" y="227.75" font-size="6.55" text-anchor="start" font-weight="normal" fill="#111" stroke="#111" stroke-width="0.18" transform="rotate(0.03 325.60 227.75)">Use1</text>
<rect x="268.00" y="229.99" width="28.00" height="8.52" fill="#fff8f3"/>
<rect x="296.00" y="229.99" width="27.80" height="8.52" fill="#0e47a6"/>
<text x="325.60" y="236.22" font-size="6.55" text-anchor="start" font-weight="normal" fill="#00a651" stroke="#00a651" stroke-width="0.10" transform="rotate(0.03 325.60 236.22)">Atl1</text>
<rect x="268.00" y="153.80" width="28.00" height="33.86" fill="#b4b9b9"/>
<line x1="296.00" y1="162.27" x2="323.80" y2="162.27" stroke="#b4b7b0" stroke-width="0.80" stroke-opacity="0.85"/>
<line x1="296.00" y1="170.73" x2="323.80" y2="170.73" stroke="#b4b7b0" stroke-width="0.80" stroke-opacity="0.85"/>
<line x1="296.00" y1="179.20" x2="323.80" y2="179.20" stroke="#b4b7b0" stroke-width="0.80" stroke-opacity="0.85"/>
<line x1="268.00" y1="187.66" x2="323.80" y2="187.66" stroke="#b4b7b0" stroke-width="0.80" stroke-opacity="0.85"/>
<line x1="268.00" y1="196.12" x2="323.80" y2="196.12" stroke="#b4b7b0" stroke-width="0.80" stroke-opacity="0.85"/>
<line x1="268.00" y1="204.59" x2="323.80" y2="204.59" stroke="#b4b7b0" stroke-width="0.80" stroke-opacity="0.85"/>
<line x1="268.00" y1="213.06" x2="323.80" y2="213.06" stroke="#b4b7b0" stroke-width="0.80" stroke-opacity="0.85"/>
<line x1="268.00" y1="221.52" x2="323.80" y2="221.52" stroke="#b4b7b0" stroke-width="0.80" stroke-opacity="0.85"/>
<line x1="268.00" y1="229.99" x2="323.80" y2="229.99" stroke="#b4b7b0" stroke-width="0.80" stroke-opacity="0.85"/>
<line x1="296.00" y1="153.80" x2="296.00" y2="238.45" stroke="#b4b7b0" stroke-width="0.80" stroke-opacity="0.85"/>
<text x="268.20" y="150.70" font-size="6.72" text-anchor="start" font-weight="bold" fill="#111" stroke="#111" stroke-width="0.10" transform="rotate(0.03 268.20 150.70)">Brain protease activity</text>
<text x="283.70" y="246.05" font-size="6.60" text-anchor="middle" font-weight="normal" fill="#111" stroke="#111" stroke-width="0.16" transform="rotate(0.03 283.70 246.05)">Full</text>
<text x="309.10" y="246.05" font-size="6.60" text-anchor="middle" font-weight="normal" fill="#111" stroke="#111" stroke-width="0.16" transform="rotate(0.03 309.10 246.05)">Con A</text>
<rect x="386.10" y="153.90" width="28.30" height="6.36" fill="#f92428"/>
<text x="415.70" y="159.06" font-size="6.55" text-anchor="start" font-weight="normal" fill="#00a651" stroke="#00a651" stroke-width="0.10" transform="rotate(0.03 415.70 159.06)">Cacna1s</text>
<rect x="386.10" y="160.21" width="28.30" height="6.36" fill="#fb8a8a"/>
<text x="415.70" y="165.37" font-size="6.55" text-anchor="start" font-weight="normal" fill="#00a651" stroke="#00a651" stroke-width="0.10" transform="rotate(0.03 415.70 165.37)">Casq1</text>
<rect x="386.10" y="166.52" width="28.30" height="6.36" fill="#fb9696"/>
<text x="415.70" y="171.68" font-size="6.55" text-anchor="start" font-weight="normal" fill="#00a651" stroke="#00a651" stroke-width="0.10" transform="rotate(0.03 415.70 171.68)">Tor1b</text>
<rect x="386.10" y="172.83" width="28.30" height="6.36" fill="#fcabab"/>
<text x="415.70" y="177.99" font-size="6.55" text-anchor="start" font-weight="normal" fill="#00a651" stroke="#00a651" stroke-width="0.10" transform="rotate(0.03 415.70 177.99)">Tor1aip2</text>
<rect x="358.10" y="179.14" width="28.00" height="6.36" fill="#fdd6d4"/>
<rect x="386.10" y="179.14" width="28.30" height="6.36" fill="#fdc6c6"/>
<text x="415.70" y="184.30" font-size="6.55" text-anchor="start" font-weight="normal" fill="#00a651" stroke="#00a651" stroke-width="0.10" transform="rotate(0.03 415.70 184.30)">Atl2</text>
<rect x="358.10" y="185.45" width="28.00" height="6.36" fill="#fff1ed"/>
<rect x="386.10" y="185.45" width="28.30" height="6.36" fill="#fdcaca"/>
<text x="415.70" y="190.60" font-size="6.55" text-anchor="start" font-weight="normal" fill="#111" stroke="#111" stroke-width="0.18" transform="rotate(0.03 415.70 190.60)">Col4a3bp</text>
<rect x="358.10" y="191.76" width="28.00" height="6.36" fill="#fff7f3"/>
<rect x="386.10" y="191.76" width="28.30" height="6.36" fill="#f2f3fc"/>
<text x="415.70" y="196.91" font-size="6.55" text-anchor="start" font-weight="normal" fill="#00a651" stroke="#00a651" stroke-width="0.10" transform="rotate(0.03 415.70 196.91)">Ccdc47</text>
<rect x="358.10" y="198.07" width="28.00" height="6.36" fill="#bec0ea"/>
<rect x="386.10" y="198.07" width="28.30" height="6.36" fill="#a9abdf"/>
<text x="415.70" y="203.22" font-size="6.55" text-anchor="start" font-weight="normal" fill="#00a651" stroke="#00a651" stroke-width="0.10" transform="rotate(0.03 415.70 203.22)">Vapb</text>
<rect x="358.10" y="204.38" width="28.00" height="6.36" fill="#f2f3fc"/>
<rect x="386.10" y="204.38" width="28.30" height="6.36" fill="#9fa1db"/>
<text x="415.70" y="209.53" font-size="6.55" text-anchor="start" font-weight="normal" fill="#111" stroke="#111" stroke-width="0.18" transform="rotate(0.03 415.70 209.53)">Use1</text>
<rect x="358.10" y="210.69" width="28.00" height="6.36" fill="#fffaf6"/>
<rect x="386.10" y="210.69" width="28.30" height="6.36" fill="#0e47a6"/>
<text x="415.70" y="215.84" font-size="6.55" text-anchor="start" font-weight="normal" fill="#00a651" stroke="#00a651" stroke-width="0.10" transform="rotate(0.03 415.70 215.84)">Atl1</text>
<rect x="358.10" y="153.90" width="28.00" height="25.24" fill="#b4b9b9"/>
<line x1="386.10" y1="160.21" x2="414.40" y2="160.21" stroke="#babdb6" stroke-width="0.80" stroke-opacity="0.85"/>
<line x1="386.10" y1="166.52" x2="414.40" y2="166.52" stroke="#babdb6" stroke-width="0.80" stroke-opacity="0.85"/>
<line x1="386.10" y1="172.83" x2="414.40" y2="172.83" stroke="#babdb6" stroke-width="0.80" stroke-opacity="0.85"/>
<line x1="358.10" y1="179.14" x2="414.40" y2="179.14" stroke="#babdb6" stroke-width="0.80" stroke-opacity="0.85"/>
<line x1="358.10" y1="185.45" x2="414.40" y2="185.45" stroke="#babdb6" stroke-width="0.80" stroke-opacity="0.85"/>
<line x1="358.10" y1="191.76" x2="414.40" y2="191.76" stroke="#babdb6" stroke-width="0.80" stroke-opacity="0.85"/>
<line x1="358.10" y1="198.07" x2="414.40" y2="198.07" stroke="#babdb6" stroke-width="0.80" stroke-opacity="0.85"/>
<line x1="358.10" y1="204.38" x2="414.40" y2="204.38" stroke="#babdb6" stroke-width="0.80" stroke-opacity="0.85"/>
<line x1="358.10" y1="210.69" x2="414.40" y2="210.69" stroke="#babdb6" stroke-width="0.80" stroke-opacity="0.85"/>
<line x1="386.10" y1="153.90" x2="386.10" y2="217.00" stroke="#babdb6" stroke-width="0.80" stroke-opacity="0.85"/>
<text x="358.20" y="151.10" font-size="6.72" text-anchor="start" font-weight="bold" fill="#111" stroke="#111" stroke-width="0.10" transform="rotate(0.03 358.20 151.10)">Brain ER organization</text>
<text x="375.00" y="224.30" font-size="6.60" text-anchor="middle" font-weight="normal" fill="#111" stroke="#111" stroke-width="0.16" transform="rotate(0.03 375.00 224.30)">Full</text>
<text x="400.35" y="224.30" font-size="6.60" text-anchor="middle" font-weight="normal" fill="#111" stroke="#111" stroke-width="0.16" transform="rotate(0.03 400.35 224.30)">Con A</text>
<defs><linearGradient id="cb" x1="0" x2="1" y1="0" y2="0">
<stop offset="0" stop-color="#0c3aa0"/><stop offset="0.12" stop-color="#2f4bb1"/><stop offset="0.3" stop-color="#8e92d5"/>
<stop offset="0.5" stop-color="#ffffff"/><stop offset="0.7" stop-color="#fbb0b0"/><stop offset="0.88" stop-color="#f44848"/><stop offset="1" stop-color="#ee1414"/>
</linearGradient></defs>
<rect x="358.1" y="229.8" width="42.9" height="7.5" fill="url(#cb)" stroke="#333" stroke-width="0.4"/>
<line x1="361.40" y1="237.3" x2="361.40" y2="238.9" stroke="#222" stroke-width="0.6"/>
<text x="360.40" y="246.00" font-size="6.80" text-anchor="middle" font-weight="normal" fill="#111" stroke="#111" stroke-width="0.16" transform="rotate(0.03 360.40 246.00)">-2</text>
<line x1="370.80" y1="237.3" x2="370.80" y2="238.9" stroke="#222" stroke-width="0.6"/>
<text x="369.80" y="246.00" font-size="6.80" text-anchor="middle" font-weight="normal" fill="#111" stroke="#111" stroke-width="0.16" transform="rotate(0.03 369.80 246.00)">-1</text>
<line x1="380.20" y1="237.3" x2="380.20" y2="238.9" stroke="#222" stroke-width="0.6"/>
<text x="380.20" y="246.00" font-size="6.80" text-anchor="middle" font-weight="normal" fill="#111" stroke="#111" stroke-width="0.16" transform="rotate(0.03 380.20 246.00)">0</text>
<line x1="389.60" y1="237.3" x2="389.60" y2="238.9" stroke="#222" stroke-width="0.6"/>
<text x="389.60" y="246.00" font-size="6.80" text-anchor="middle" font-weight="normal" fill="#111" stroke="#111" stroke-width="0.16" transform="rotate(0.03 389.60 246.00)">1</text>
<line x1="399.00" y1="237.3" x2="399.00" y2="238.9" stroke="#222" stroke-width="0.6"/>
<text x="399.00" y="246.00" font-size="6.80" text-anchor="middle" font-weight="normal" fill="#111" stroke="#111" stroke-width="0.16" transform="rotate(0.03 399.00 246.00)">2</text>
<text x="382.80" y="253.80" font-size="6.60" text-anchor="middle" font-weight="normal" fill="#111" stroke="#111" stroke-width="0.16" transform="rotate(0.03 382.80 253.80)">LogFC</text>
</svg></body></html>
